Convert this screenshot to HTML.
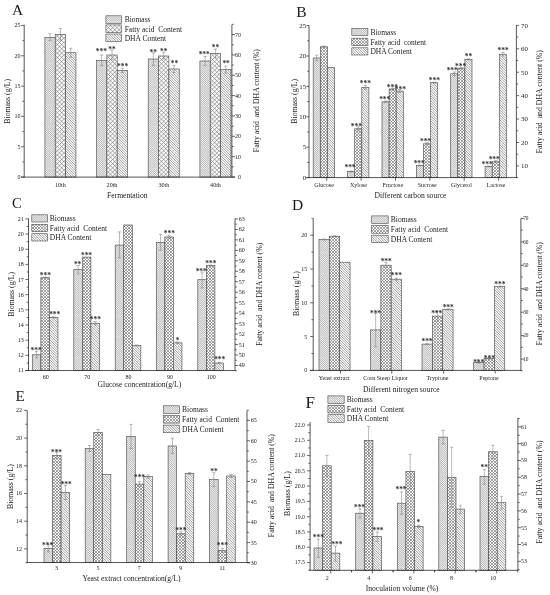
<!DOCTYPE html>
<html><head><meta charset="utf-8"><title>Figure</title>
<style>html,body{margin:0;padding:0;background:#fff}svg{display:block}text{font-family:"Liberation Serif",serif}</style>
</head><body>
<svg width="550" height="595" viewBox="0 0 550 595">
<rect width="550" height="595" fill="#fff"/>
<defs><pattern id="p1" width="21" height="21" patternUnits="userSpaceOnUse"><rect width="21" height="21" fill="#f2f2f2"/><path d="M-21 0L0 21M-18.9 0L2.1 21M-16.8 0L4.2 21M-14.7 0L6.3 21M-12.6 0L8.4 21M-10.5 0L10.5 21M-8.4 0L12.6 21M-6.3 0L14.7 21M-4.2 0L16.8 21M-2.1 0L18.9 21M0 0L21 21M2.1 0L23.1 21M4.2 0L25.2 21M6.3 0L27.3 21M8.4 0L29.4 21M10.5 0L31.5 21M12.6 0L33.6 21M14.7 0L35.7 21M16.8 0L37.8 21M18.9 0L39.9 21M21 0L42 21" stroke="#8e8e8e" stroke-width="0.62" fill="none"/></pattern><pattern id="p2" width="3" height="3" patternUnits="userSpaceOnUse"><rect width="3" height="3" fill="#fdfdfd"/><path d="M-3 0L0 3M0 0L-3 3M0 0L3 3M3 0L0 3M3 0L6 3M6 0L3 3" stroke="#727272" stroke-width="0.66" fill="none"/></pattern><pattern id="p2a" width="17" height="17" patternUnits="userSpaceOnUse"><rect width="17" height="17" fill="#fafafa"/><path d="M-17 0L0 17M0 0L-17 17M-12.75 0L4.25 17M4.25 0L-12.75 17M-8.5 0L8.5 17M8.5 0L-8.5 17M-4.25 0L12.75 17M12.75 0L-4.25 17M0 0L17 17M17 0L0 17M4.25 0L21.25 17M21.25 0L4.25 17M8.5 0L25.5 17M25.5 0L8.5 17M12.75 0L29.75 17M29.75 0L12.75 17M17 0L34 17M34 0L17 17" stroke="#808080" stroke-width="0.68" fill="none"/></pattern><pattern id="p3" width="5" height="5" patternUnits="userSpaceOnUse"><rect width="5" height="5" fill="#fcfcfc"/><path d="M-5 0L0 5M-2.5 0L2.5 5M0 0L5 5M2.5 0L7.5 5M5 0L10 5" stroke="#8e8e8e" stroke-width="0.8" fill="none"/></pattern></defs>
<rect x="44.9" y="37.4" width="10.35" height="139.7" fill="url(#p1)" stroke="#4e4e4e" stroke-width="0.65"/>
<rect x="55.25" y="34.4" width="10.35" height="142.7" fill="url(#p2a)" stroke="#4e4e4e" stroke-width="0.65"/>
<rect x="65.6" y="52.7" width="10.35" height="124.4" fill="url(#p3)" stroke="#4e4e4e" stroke-width="0.65"/>
<line x1="50.07" y1="33.8" x2="50.07" y2="40.7" stroke="#7e7e7e" stroke-width="0.55"/>
<line x1="48.47" y1="33.8" x2="51.67" y2="33.8" stroke="#7e7e7e" stroke-width="0.55"/>
<line x1="48.47" y1="40.7" x2="51.67" y2="40.7" stroke="#7e7e7e" stroke-width="0.55"/>
<line x1="60.42" y1="28.5" x2="60.42" y2="40.2" stroke="#7e7e7e" stroke-width="0.55"/>
<line x1="58.82" y1="28.5" x2="62.02" y2="28.5" stroke="#7e7e7e" stroke-width="0.55"/>
<line x1="58.82" y1="40.2" x2="62.02" y2="40.2" stroke="#7e7e7e" stroke-width="0.55"/>
<line x1="70.77" y1="48.3" x2="70.77" y2="57.3" stroke="#7e7e7e" stroke-width="0.55"/>
<line x1="69.17" y1="48.3" x2="72.37" y2="48.3" stroke="#7e7e7e" stroke-width="0.55"/>
<line x1="69.17" y1="57.3" x2="72.37" y2="57.3" stroke="#7e7e7e" stroke-width="0.55"/>
<rect x="96.5" y="60.3" width="10.35" height="116.8" fill="url(#p1)" stroke="#4e4e4e" stroke-width="0.65"/>
<rect x="106.85" y="55" width="10.35" height="122.1" fill="url(#p2a)" stroke="#4e4e4e" stroke-width="0.65"/>
<rect x="117.2" y="70.5" width="10.35" height="106.6" fill="url(#p3)" stroke="#4e4e4e" stroke-width="0.65"/>
<line x1="101.67" y1="55" x2="101.67" y2="65.6" stroke="#7e7e7e" stroke-width="0.55"/>
<line x1="100.08" y1="55" x2="103.27" y2="55" stroke="#7e7e7e" stroke-width="0.55"/>
<line x1="100.08" y1="65.6" x2="103.27" y2="65.6" stroke="#7e7e7e" stroke-width="0.55"/>
<line x1="112.02" y1="50.1" x2="112.02" y2="59.8" stroke="#7e7e7e" stroke-width="0.55"/>
<line x1="110.42" y1="50.1" x2="113.62" y2="50.1" stroke="#7e7e7e" stroke-width="0.55"/>
<line x1="110.42" y1="59.8" x2="113.62" y2="59.8" stroke="#7e7e7e" stroke-width="0.55"/>
<line x1="122.38" y1="68.2" x2="122.38" y2="72.5" stroke="#7e7e7e" stroke-width="0.55"/>
<line x1="120.78" y1="68.2" x2="123.97" y2="68.2" stroke="#7e7e7e" stroke-width="0.55"/>
<line x1="120.78" y1="72.5" x2="123.97" y2="72.5" stroke="#7e7e7e" stroke-width="0.55"/>
<text x="101.3" y="54" font-size="7.4" text-anchor="middle" fill="#2a2a2a" font-weight="bold">***</text>
<text x="112" y="52" font-size="7.4" text-anchor="middle" fill="#2a2a2a" font-weight="bold">**</text>
<text x="122.6" y="69" font-size="7.4" text-anchor="middle" fill="#2a2a2a" font-weight="bold">***</text>
<rect x="148.2" y="59" width="10.35" height="118.1" fill="url(#p1)" stroke="#4e4e4e" stroke-width="0.65"/>
<rect x="158.55" y="56" width="10.35" height="121.1" fill="url(#p2a)" stroke="#4e4e4e" stroke-width="0.65"/>
<rect x="168.9" y="69" width="10.35" height="108.1" fill="url(#p3)" stroke="#4e4e4e" stroke-width="0.65"/>
<line x1="153.38" y1="52.9" x2="153.38" y2="65.6" stroke="#7e7e7e" stroke-width="0.55"/>
<line x1="151.78" y1="52.9" x2="154.97" y2="52.9" stroke="#7e7e7e" stroke-width="0.55"/>
<line x1="151.78" y1="65.6" x2="154.97" y2="65.6" stroke="#7e7e7e" stroke-width="0.55"/>
<line x1="163.72" y1="52.2" x2="163.72" y2="59" stroke="#7e7e7e" stroke-width="0.55"/>
<line x1="162.12" y1="52.2" x2="165.32" y2="52.2" stroke="#7e7e7e" stroke-width="0.55"/>
<line x1="162.12" y1="59" x2="165.32" y2="59" stroke="#7e7e7e" stroke-width="0.55"/>
<line x1="174.07" y1="65.4" x2="174.07" y2="72.5" stroke="#7e7e7e" stroke-width="0.55"/>
<line x1="172.47" y1="65.4" x2="175.67" y2="65.4" stroke="#7e7e7e" stroke-width="0.55"/>
<line x1="172.47" y1="72.5" x2="175.67" y2="72.5" stroke="#7e7e7e" stroke-width="0.55"/>
<text x="153.3" y="55" font-size="7.4" text-anchor="middle" fill="#2a2a2a" font-weight="bold">**</text>
<text x="163.8" y="54" font-size="7.4" text-anchor="middle" fill="#2a2a2a" font-weight="bold">**</text>
<text x="174.4" y="66" font-size="7.4" text-anchor="middle" fill="#2a2a2a" font-weight="bold">**</text>
<rect x="199.9" y="61" width="10.35" height="116.1" fill="url(#p1)" stroke="#4e4e4e" stroke-width="0.65"/>
<rect x="210.25" y="53.4" width="10.35" height="123.7" fill="url(#p2a)" stroke="#4e4e4e" stroke-width="0.65"/>
<rect x="220.6" y="69.5" width="10.35" height="107.6" fill="url(#p3)" stroke="#4e4e4e" stroke-width="0.65"/>
<line x1="205.08" y1="56.5" x2="205.08" y2="65.6" stroke="#7e7e7e" stroke-width="0.55"/>
<line x1="203.48" y1="56.5" x2="206.68" y2="56.5" stroke="#7e7e7e" stroke-width="0.55"/>
<line x1="203.48" y1="65.6" x2="206.68" y2="65.6" stroke="#7e7e7e" stroke-width="0.55"/>
<line x1="215.43" y1="49.1" x2="215.43" y2="57.8" stroke="#7e7e7e" stroke-width="0.55"/>
<line x1="213.83" y1="49.1" x2="217.03" y2="49.1" stroke="#7e7e7e" stroke-width="0.55"/>
<line x1="213.83" y1="57.8" x2="217.03" y2="57.8" stroke="#7e7e7e" stroke-width="0.55"/>
<line x1="225.78" y1="66.2" x2="225.78" y2="73" stroke="#7e7e7e" stroke-width="0.55"/>
<line x1="224.18" y1="66.2" x2="227.38" y2="66.2" stroke="#7e7e7e" stroke-width="0.55"/>
<line x1="224.18" y1="73" x2="227.38" y2="73" stroke="#7e7e7e" stroke-width="0.55"/>
<text x="204.2" y="57" font-size="7.4" text-anchor="middle" fill="#2a2a2a" font-weight="bold">***</text>
<text x="215.4" y="50" font-size="7.4" text-anchor="middle" fill="#2a2a2a" font-weight="bold">**</text>
<text x="226.1" y="66" font-size="7.4" text-anchor="middle" fill="#2a2a2a" font-weight="bold">**</text>
<line x1="24.2" y1="24.8" x2="24.2" y2="177.5" stroke="#2a2a2a" stroke-width="0.8"/>
<line x1="231.9" y1="24.8" x2="231.9" y2="177.5" stroke="#2a2a2a" stroke-width="0.8"/>
<line x1="21" y1="177.1" x2="235.1" y2="177.1" stroke="#2a2a2a" stroke-width="0.8"/>
<line x1="21.1" y1="25.45" x2="24.2" y2="25.45" stroke="#2a2a2a" stroke-width="0.7"/>
<text x="20.4" y="27.43" font-size="6.0" text-anchor="end" fill="#1a1a1a" >25</text>
<line x1="21.1" y1="55.78" x2="24.2" y2="55.78" stroke="#2a2a2a" stroke-width="0.7"/>
<text x="20.4" y="57.76" font-size="6.0" text-anchor="end" fill="#1a1a1a" >20</text>
<line x1="21.1" y1="86.11" x2="24.2" y2="86.11" stroke="#2a2a2a" stroke-width="0.7"/>
<text x="20.4" y="88.09" font-size="6.0" text-anchor="end" fill="#1a1a1a" >15</text>
<line x1="21.1" y1="116.44" x2="24.2" y2="116.44" stroke="#2a2a2a" stroke-width="0.7"/>
<text x="20.4" y="118.42" font-size="6.0" text-anchor="end" fill="#1a1a1a" >10</text>
<line x1="21.1" y1="146.77" x2="24.2" y2="146.77" stroke="#2a2a2a" stroke-width="0.7"/>
<text x="20.4" y="148.75" font-size="6.0" text-anchor="end" fill="#1a1a1a" >5</text>
<line x1="21.1" y1="177.1" x2="24.2" y2="177.1" stroke="#2a2a2a" stroke-width="0.7"/>
<text x="20.4" y="179.08" font-size="6.0" text-anchor="end" fill="#1a1a1a" >0</text>
<line x1="22.4" y1="40.61" x2="24.2" y2="40.61" stroke="#2a2a2a" stroke-width="0.7"/>
<line x1="22.4" y1="70.95" x2="24.2" y2="70.95" stroke="#2a2a2a" stroke-width="0.7"/>
<line x1="22.4" y1="101.28" x2="24.2" y2="101.28" stroke="#2a2a2a" stroke-width="0.7"/>
<line x1="22.4" y1="131.61" x2="24.2" y2="131.61" stroke="#2a2a2a" stroke-width="0.7"/>
<line x1="22.4" y1="161.94" x2="24.2" y2="161.94" stroke="#2a2a2a" stroke-width="0.7"/>
<line x1="231.9" y1="177" x2="235" y2="177" stroke="#2a2a2a" stroke-width="0.7"/>
<text x="238" y="178.98" font-size="6.0" text-anchor="start" fill="#1a1a1a" >0</text>
<line x1="231.9" y1="156.65" x2="235" y2="156.65" stroke="#2a2a2a" stroke-width="0.7"/>
<text x="235" y="158.63" font-size="6.0" text-anchor="start" fill="#1a1a1a" >10</text>
<line x1="231.9" y1="136.3" x2="235" y2="136.3" stroke="#2a2a2a" stroke-width="0.7"/>
<text x="235" y="138.28" font-size="6.0" text-anchor="start" fill="#1a1a1a" >20</text>
<line x1="231.9" y1="115.95" x2="235" y2="115.95" stroke="#2a2a2a" stroke-width="0.7"/>
<text x="235" y="117.93" font-size="6.0" text-anchor="start" fill="#1a1a1a" >30</text>
<line x1="231.9" y1="95.6" x2="235" y2="95.6" stroke="#2a2a2a" stroke-width="0.7"/>
<text x="235" y="97.58" font-size="6.0" text-anchor="start" fill="#1a1a1a" >40</text>
<line x1="231.9" y1="75.25" x2="235" y2="75.25" stroke="#2a2a2a" stroke-width="0.7"/>
<text x="235" y="77.23" font-size="6.0" text-anchor="start" fill="#1a1a1a" >50</text>
<line x1="231.9" y1="54.9" x2="235" y2="54.9" stroke="#2a2a2a" stroke-width="0.7"/>
<text x="235" y="56.88" font-size="6.0" text-anchor="start" fill="#1a1a1a" >60</text>
<line x1="231.9" y1="34.55" x2="235" y2="34.55" stroke="#2a2a2a" stroke-width="0.7"/>
<text x="235" y="36.53" font-size="6.0" text-anchor="start" fill="#1a1a1a" >70</text>
<line x1="231.9" y1="166.82" x2="233.7" y2="166.82" stroke="#2a2a2a" stroke-width="0.7"/>
<line x1="231.9" y1="146.48" x2="233.7" y2="146.48" stroke="#2a2a2a" stroke-width="0.7"/>
<line x1="231.9" y1="126.13" x2="233.7" y2="126.13" stroke="#2a2a2a" stroke-width="0.7"/>
<line x1="231.9" y1="105.77" x2="233.7" y2="105.77" stroke="#2a2a2a" stroke-width="0.7"/>
<line x1="231.9" y1="85.42" x2="233.7" y2="85.42" stroke="#2a2a2a" stroke-width="0.7"/>
<line x1="231.9" y1="65.08" x2="233.7" y2="65.08" stroke="#2a2a2a" stroke-width="0.7"/>
<line x1="231.9" y1="44.72" x2="233.7" y2="44.72" stroke="#2a2a2a" stroke-width="0.7"/>
<line x1="231.9" y1="24.37" x2="233.7" y2="24.37" stroke="#2a2a2a" stroke-width="0.7"/>
<text x="60.4" y="186.91" font-size="6.1" text-anchor="middle" fill="#1a1a1a" >10th</text>
<text x="112" y="186.91" font-size="6.1" text-anchor="middle" fill="#1a1a1a" >20th</text>
<text x="163.8" y="186.91" font-size="6.1" text-anchor="middle" fill="#1a1a1a" >30th</text>
<text x="215.5" y="186.91" font-size="6.1" text-anchor="middle" fill="#1a1a1a" >40th</text>
<text x="127.3" y="197.91" font-size="7.6" text-anchor="middle" fill="#1a1a1a" >Fermentation</text>
<text transform="translate(10.14,101.3) rotate(-90)" font-size="7.8" text-anchor="middle" fill="#1a1a1a">Biomass (g/L)</text>
<text transform="translate(259.04,100.6) rotate(-90)" font-size="7.8" text-anchor="middle" fill="#1a1a1a">Fatty acid&#160; and DHA content (%)</text>
<rect x="105.9" y="15.8" width="15.7" height="7.6" fill="url(#p1)" stroke="#4a4a4a" stroke-width="0.6"/>
<text x="124.7" y="22.38" font-size="7.5" text-anchor="start" fill="#1a1a1a" >Biomass</text>
<rect x="105.9" y="24.9" width="15.7" height="7.7" fill="url(#p2a)" stroke="#4a4a4a" stroke-width="0.6"/>
<text x="124.7" y="31.53" font-size="7.5" text-anchor="start" fill="#1a1a1a" >Fatty acid&#160; Content</text>
<rect x="105.9" y="34" width="15.7" height="7.5" fill="url(#p3)" stroke="#4a4a4a" stroke-width="0.6"/>
<text x="124.7" y="40.52" font-size="7.5" text-anchor="start" fill="#1a1a1a" >DHA Content</text>
<text x="12" y="15" font-size="15.5" text-anchor="start" fill="#1a1a1a" >A</text>
<rect x="313.2" y="58" width="7.1" height="119.6" fill="url(#p1)" stroke="#4e4e4e" stroke-width="0.65"/>
<rect x="320.3" y="46.8" width="7.1" height="130.8" fill="url(#p2)" stroke="#4e4e4e" stroke-width="0.65"/>
<rect x="327.4" y="67.4" width="7.1" height="110.2" fill="url(#p3)" stroke="#4e4e4e" stroke-width="0.65"/>
<line x1="316.75" y1="55.2" x2="316.75" y2="60.8" stroke="#7e7e7e" stroke-width="0.55"/>
<line x1="315.15" y1="55.2" x2="318.35" y2="55.2" stroke="#7e7e7e" stroke-width="0.55"/>
<line x1="315.15" y1="60.8" x2="318.35" y2="60.8" stroke="#7e7e7e" stroke-width="0.55"/>
<line x1="323.85" y1="46" x2="323.85" y2="47.6" stroke="#7e7e7e" stroke-width="0.55"/>
<line x1="322.25" y1="46" x2="325.45" y2="46" stroke="#7e7e7e" stroke-width="0.55"/>
<line x1="322.25" y1="47.6" x2="325.45" y2="47.6" stroke="#7e7e7e" stroke-width="0.55"/>
<rect x="347.6" y="171.5" width="7.1" height="6.1" fill="url(#p1)" stroke="#4e4e4e" stroke-width="0.65"/>
<rect x="354.7" y="128.8" width="7.1" height="48.8" fill="url(#p2)" stroke="#4e4e4e" stroke-width="0.65"/>
<rect x="361.8" y="87.3" width="7.1" height="90.3" fill="url(#p3)" stroke="#4e4e4e" stroke-width="0.65"/>
<line x1="351.15" y1="171" x2="351.15" y2="172" stroke="#7e7e7e" stroke-width="0.55"/>
<line x1="349.55" y1="171" x2="352.75" y2="171" stroke="#7e7e7e" stroke-width="0.55"/>
<line x1="349.55" y1="172" x2="352.75" y2="172" stroke="#7e7e7e" stroke-width="0.55"/>
<line x1="358.25" y1="126.8" x2="358.25" y2="130.8" stroke="#7e7e7e" stroke-width="0.55"/>
<line x1="356.65" y1="126.8" x2="359.85" y2="126.8" stroke="#7e7e7e" stroke-width="0.55"/>
<line x1="356.65" y1="130.8" x2="359.85" y2="130.8" stroke="#7e7e7e" stroke-width="0.55"/>
<line x1="365.35" y1="85.5" x2="365.35" y2="89.1" stroke="#7e7e7e" stroke-width="0.55"/>
<line x1="363.75" y1="85.5" x2="366.95" y2="85.5" stroke="#7e7e7e" stroke-width="0.55"/>
<line x1="363.75" y1="89.1" x2="366.95" y2="89.1" stroke="#7e7e7e" stroke-width="0.55"/>
<text x="350" y="170" font-size="7.4" text-anchor="middle" fill="#2a2a2a" font-weight="bold">***</text>
<text x="356.4" y="129" font-size="7.4" text-anchor="middle" fill="#2a2a2a" font-weight="bold">***</text>
<text x="365.3" y="86" font-size="7.4" text-anchor="middle" fill="#2a2a2a" font-weight="bold">***</text>
<rect x="382" y="101.8" width="7.1" height="75.8" fill="url(#p1)" stroke="#4e4e4e" stroke-width="0.65"/>
<rect x="389.1" y="89" width="7.1" height="88.6" fill="url(#p2)" stroke="#4e4e4e" stroke-width="0.65"/>
<rect x="396.2" y="91.1" width="7.1" height="86.5" fill="url(#p3)" stroke="#4e4e4e" stroke-width="0.65"/>
<line x1="385.55" y1="101.2" x2="385.55" y2="102.4" stroke="#7e7e7e" stroke-width="0.55"/>
<line x1="383.95" y1="101.2" x2="387.15" y2="101.2" stroke="#7e7e7e" stroke-width="0.55"/>
<line x1="383.95" y1="102.4" x2="387.15" y2="102.4" stroke="#7e7e7e" stroke-width="0.55"/>
<line x1="392.65" y1="88.2" x2="392.65" y2="89.8" stroke="#7e7e7e" stroke-width="0.55"/>
<line x1="391.05" y1="88.2" x2="394.25" y2="88.2" stroke="#7e7e7e" stroke-width="0.55"/>
<line x1="391.05" y1="89.8" x2="394.25" y2="89.8" stroke="#7e7e7e" stroke-width="0.55"/>
<line x1="399.75" y1="89.6" x2="399.75" y2="92.6" stroke="#7e7e7e" stroke-width="0.55"/>
<line x1="398.15" y1="89.6" x2="401.35" y2="89.6" stroke="#7e7e7e" stroke-width="0.55"/>
<line x1="398.15" y1="92.6" x2="401.35" y2="92.6" stroke="#7e7e7e" stroke-width="0.55"/>
<text x="384.7" y="102" font-size="7.4" text-anchor="middle" fill="#2a2a2a" font-weight="bold">***</text>
<text x="392.3" y="90" font-size="7.4" text-anchor="middle" fill="#2a2a2a" font-weight="bold">***</text>
<text x="400.4" y="92" font-size="7.4" text-anchor="middle" fill="#2a2a2a" font-weight="bold">***</text>
<rect x="416.4" y="165.4" width="7.1" height="12.2" fill="url(#p1)" stroke="#4e4e4e" stroke-width="0.65"/>
<rect x="423.5" y="143.8" width="7.1" height="33.8" fill="url(#p2)" stroke="#4e4e4e" stroke-width="0.65"/>
<rect x="430.6" y="82.7" width="7.1" height="94.9" fill="url(#p3)" stroke="#4e4e4e" stroke-width="0.65"/>
<line x1="419.95" y1="165" x2="419.95" y2="165.8" stroke="#7e7e7e" stroke-width="0.55"/>
<line x1="418.35" y1="165" x2="421.55" y2="165" stroke="#7e7e7e" stroke-width="0.55"/>
<line x1="418.35" y1="165.8" x2="421.55" y2="165.8" stroke="#7e7e7e" stroke-width="0.55"/>
<line x1="427.05" y1="142.6" x2="427.05" y2="145" stroke="#7e7e7e" stroke-width="0.55"/>
<line x1="425.45" y1="142.6" x2="428.65" y2="142.6" stroke="#7e7e7e" stroke-width="0.55"/>
<line x1="425.45" y1="145" x2="428.65" y2="145" stroke="#7e7e7e" stroke-width="0.55"/>
<line x1="434.15" y1="82.2" x2="434.15" y2="83.2" stroke="#7e7e7e" stroke-width="0.55"/>
<line x1="432.55" y1="82.2" x2="435.75" y2="82.2" stroke="#7e7e7e" stroke-width="0.55"/>
<line x1="432.55" y1="83.2" x2="435.75" y2="83.2" stroke="#7e7e7e" stroke-width="0.55"/>
<text x="419.2" y="166" font-size="7.4" text-anchor="middle" fill="#2a2a2a" font-weight="bold">***</text>
<text x="425.5" y="144" font-size="7.4" text-anchor="middle" fill="#2a2a2a" font-weight="bold">***</text>
<text x="434.4" y="83" font-size="7.4" text-anchor="middle" fill="#2a2a2a" font-weight="bold">***</text>
<rect x="450.7" y="73.8" width="7.1" height="103.8" fill="url(#p1)" stroke="#4e4e4e" stroke-width="0.65"/>
<rect x="457.8" y="68.2" width="7.1" height="109.4" fill="url(#p2)" stroke="#4e4e4e" stroke-width="0.65"/>
<rect x="464.9" y="59.3" width="7.1" height="118.3" fill="url(#p3)" stroke="#4e4e4e" stroke-width="0.65"/>
<line x1="454.25" y1="72" x2="454.25" y2="75.6" stroke="#7e7e7e" stroke-width="0.55"/>
<line x1="452.65" y1="72" x2="455.85" y2="72" stroke="#7e7e7e" stroke-width="0.55"/>
<line x1="452.65" y1="75.6" x2="455.85" y2="75.6" stroke="#7e7e7e" stroke-width="0.55"/>
<line x1="461.35" y1="67.6" x2="461.35" y2="68.8" stroke="#7e7e7e" stroke-width="0.55"/>
<line x1="459.75" y1="67.6" x2="462.95" y2="67.6" stroke="#7e7e7e" stroke-width="0.55"/>
<line x1="459.75" y1="68.8" x2="462.95" y2="68.8" stroke="#7e7e7e" stroke-width="0.55"/>
<line x1="468.45" y1="58.8" x2="468.45" y2="59.8" stroke="#7e7e7e" stroke-width="0.55"/>
<line x1="466.85" y1="58.8" x2="470.05" y2="58.8" stroke="#7e7e7e" stroke-width="0.55"/>
<line x1="466.85" y1="59.8" x2="470.05" y2="59.8" stroke="#7e7e7e" stroke-width="0.55"/>
<text x="452.2" y="73" font-size="7.4" text-anchor="middle" fill="#2a2a2a" font-weight="bold">***</text>
<text x="460.6" y="69" font-size="7.4" text-anchor="middle" fill="#2a2a2a" font-weight="bold">***</text>
<text x="468.5" y="59" font-size="7.4" text-anchor="middle" fill="#2a2a2a" font-weight="bold">**</text>
<rect x="485.1" y="166.4" width="7.1" height="11.2" fill="url(#p1)" stroke="#4e4e4e" stroke-width="0.65"/>
<rect x="492.2" y="161.8" width="7.1" height="15.8" fill="url(#p2)" stroke="#4e4e4e" stroke-width="0.65"/>
<rect x="499.3" y="54.2" width="7.1" height="123.4" fill="url(#p3)" stroke="#4e4e4e" stroke-width="0.65"/>
<line x1="488.65" y1="166" x2="488.65" y2="166.8" stroke="#7e7e7e" stroke-width="0.55"/>
<line x1="487.05" y1="166" x2="490.25" y2="166" stroke="#7e7e7e" stroke-width="0.55"/>
<line x1="487.05" y1="166.8" x2="490.25" y2="166.8" stroke="#7e7e7e" stroke-width="0.55"/>
<line x1="495.75" y1="160.6" x2="495.75" y2="163" stroke="#7e7e7e" stroke-width="0.55"/>
<line x1="494.15" y1="160.6" x2="497.35" y2="160.6" stroke="#7e7e7e" stroke-width="0.55"/>
<line x1="494.15" y1="163" x2="497.35" y2="163" stroke="#7e7e7e" stroke-width="0.55"/>
<line x1="502.85" y1="52.4" x2="502.85" y2="56" stroke="#7e7e7e" stroke-width="0.55"/>
<line x1="501.25" y1="52.4" x2="504.45" y2="52.4" stroke="#7e7e7e" stroke-width="0.55"/>
<line x1="501.25" y1="56" x2="504.45" y2="56" stroke="#7e7e7e" stroke-width="0.55"/>
<text x="487.1" y="167" font-size="7.4" text-anchor="middle" fill="#2a2a2a" font-weight="bold">***</text>
<text x="494.2" y="162" font-size="7.4" text-anchor="middle" fill="#2a2a2a" font-weight="bold">***</text>
<text x="503.1" y="53" font-size="7.4" text-anchor="middle" fill="#2a2a2a" font-weight="bold">***</text>
<line x1="309" y1="25.2" x2="309" y2="178" stroke="#2a2a2a" stroke-width="0.8"/>
<line x1="516.4" y1="25.2" x2="516.4" y2="178" stroke="#2a2a2a" stroke-width="0.8"/>
<line x1="306.3" y1="177.6" x2="516.8" y2="177.6" stroke="#2a2a2a" stroke-width="0.8"/>
<line x1="306.3" y1="25.6" x2="309" y2="25.6" stroke="#2a2a2a" stroke-width="0.7"/>
<text x="306.2" y="27.88" font-size="6.9" text-anchor="end" fill="#1a1a1a" >25</text>
<line x1="306.3" y1="56" x2="309" y2="56" stroke="#2a2a2a" stroke-width="0.7"/>
<text x="306.2" y="58.28" font-size="6.9" text-anchor="end" fill="#1a1a1a" >20</text>
<line x1="306.3" y1="86.4" x2="309" y2="86.4" stroke="#2a2a2a" stroke-width="0.7"/>
<text x="306.2" y="88.68" font-size="6.9" text-anchor="end" fill="#1a1a1a" >15</text>
<line x1="306.3" y1="116.8" x2="309" y2="116.8" stroke="#2a2a2a" stroke-width="0.7"/>
<text x="306.2" y="119.08" font-size="6.9" text-anchor="end" fill="#1a1a1a" >10</text>
<line x1="306.3" y1="147.2" x2="309" y2="147.2" stroke="#2a2a2a" stroke-width="0.7"/>
<text x="306.2" y="149.48" font-size="6.9" text-anchor="end" fill="#1a1a1a" >5</text>
<line x1="306.3" y1="177.6" x2="309" y2="177.6" stroke="#2a2a2a" stroke-width="0.7"/>
<text x="306.2" y="179.88" font-size="6.9" text-anchor="end" fill="#1a1a1a" >0</text>
<line x1="307.2" y1="40.8" x2="309" y2="40.8" stroke="#2a2a2a" stroke-width="0.7"/>
<line x1="307.2" y1="71.2" x2="309" y2="71.2" stroke="#2a2a2a" stroke-width="0.7"/>
<line x1="307.2" y1="101.6" x2="309" y2="101.6" stroke="#2a2a2a" stroke-width="0.7"/>
<line x1="307.2" y1="132" x2="309" y2="132" stroke="#2a2a2a" stroke-width="0.7"/>
<line x1="307.2" y1="162.4" x2="309" y2="162.4" stroke="#2a2a2a" stroke-width="0.7"/>
<line x1="516.4" y1="25.38" x2="519.1" y2="25.38" stroke="#2a2a2a" stroke-width="0.7"/>
<text x="521" y="27.66" font-size="6.9" text-anchor="start" fill="#1a1a1a" >70</text>
<line x1="516.4" y1="48.8" x2="519.1" y2="48.8" stroke="#2a2a2a" stroke-width="0.7"/>
<text x="521" y="51.08" font-size="6.9" text-anchor="start" fill="#1a1a1a" >60</text>
<line x1="516.4" y1="72.22" x2="519.1" y2="72.22" stroke="#2a2a2a" stroke-width="0.7"/>
<text x="521" y="74.5" font-size="6.9" text-anchor="start" fill="#1a1a1a" >50</text>
<line x1="516.4" y1="95.64" x2="519.1" y2="95.64" stroke="#2a2a2a" stroke-width="0.7"/>
<text x="521" y="97.92" font-size="6.9" text-anchor="start" fill="#1a1a1a" >40</text>
<line x1="516.4" y1="119.06" x2="519.1" y2="119.06" stroke="#2a2a2a" stroke-width="0.7"/>
<text x="521" y="121.34" font-size="6.9" text-anchor="start" fill="#1a1a1a" >30</text>
<line x1="516.4" y1="142.48" x2="519.1" y2="142.48" stroke="#2a2a2a" stroke-width="0.7"/>
<text x="521" y="144.76" font-size="6.9" text-anchor="start" fill="#1a1a1a" >20</text>
<line x1="516.4" y1="165.9" x2="519.1" y2="165.9" stroke="#2a2a2a" stroke-width="0.7"/>
<text x="521" y="168.18" font-size="6.9" text-anchor="start" fill="#1a1a1a" >10</text>
<line x1="516.4" y1="37.09" x2="518.2" y2="37.09" stroke="#2a2a2a" stroke-width="0.7"/>
<line x1="516.4" y1="60.51" x2="518.2" y2="60.51" stroke="#2a2a2a" stroke-width="0.7"/>
<line x1="516.4" y1="83.93" x2="518.2" y2="83.93" stroke="#2a2a2a" stroke-width="0.7"/>
<line x1="516.4" y1="107.35" x2="518.2" y2="107.35" stroke="#2a2a2a" stroke-width="0.7"/>
<line x1="516.4" y1="130.77" x2="518.2" y2="130.77" stroke="#2a2a2a" stroke-width="0.7"/>
<line x1="516.4" y1="154.19" x2="518.2" y2="154.19" stroke="#2a2a2a" stroke-width="0.7"/>
<line x1="516.4" y1="177.61" x2="518.2" y2="177.61" stroke="#2a2a2a" stroke-width="0.7"/>
<line x1="326.7" y1="177.6" x2="326.7" y2="180.8" stroke="#2a2a2a" stroke-width="0.7"/>
<text x="324" y="187.18" font-size="6.0" text-anchor="middle" fill="#1a1a1a" >Glucose</text>
<line x1="361.1" y1="177.6" x2="361.1" y2="180.8" stroke="#2a2a2a" stroke-width="0.7"/>
<text x="358.4" y="187.18" font-size="6.0" text-anchor="middle" fill="#1a1a1a" >Xylose</text>
<line x1="395.5" y1="177.6" x2="395.5" y2="180.8" stroke="#2a2a2a" stroke-width="0.7"/>
<text x="392.8" y="187.18" font-size="6.0" text-anchor="middle" fill="#1a1a1a" >Fructose</text>
<line x1="429.9" y1="177.6" x2="429.9" y2="180.8" stroke="#2a2a2a" stroke-width="0.7"/>
<text x="427.2" y="187.18" font-size="6.0" text-anchor="middle" fill="#1a1a1a" >Sucrose</text>
<line x1="464.2" y1="177.6" x2="464.2" y2="180.8" stroke="#2a2a2a" stroke-width="0.7"/>
<text x="461.5" y="187.18" font-size="6.0" text-anchor="middle" fill="#1a1a1a" >Glycerol</text>
<line x1="498.6" y1="177.6" x2="498.6" y2="180.8" stroke="#2a2a2a" stroke-width="0.7"/>
<text x="495.9" y="187.18" font-size="6.0" text-anchor="middle" fill="#1a1a1a" >Lactose</text>
<text x="410.5" y="197.91" font-size="7.6" text-anchor="middle" fill="#1a1a1a" >Different carbon source</text>
<text transform="translate(296.94,101.3) rotate(-90)" font-size="7.8" text-anchor="middle" fill="#1a1a1a">Biomass (g/L)</text>
<text transform="translate(542.34,101.7) rotate(-90)" font-size="7.8" text-anchor="middle" fill="#1a1a1a">Fatty acid&#160; and DHA content (%)</text>
<rect x="351.8" y="28.5" width="16.1" height="7.1" fill="url(#p1)" stroke="#4a4a4a" stroke-width="0.6"/>
<text x="370.4" y="34.82" font-size="7.5" text-anchor="start" fill="#1a1a1a" >Biomass</text>
<rect x="351.8" y="38.2" width="16.1" height="7.3" fill="url(#p2)" stroke="#4a4a4a" stroke-width="0.6"/>
<text x="370.4" y="44.62" font-size="7.5" text-anchor="start" fill="#1a1a1a" >Fatty acid&#160; content</text>
<rect x="351.8" y="47.8" width="16.1" height="7.2" fill="url(#p3)" stroke="#4a4a4a" stroke-width="0.6"/>
<text x="370.4" y="54.17" font-size="7.5" text-anchor="start" fill="#1a1a1a" >DHA Content</text>
<text x="296.3" y="17.3" font-size="15.5" text-anchor="start" fill="#1a1a1a" >B</text>
<rect x="32.3" y="354.8" width="8.55" height="15.7" fill="url(#p1)" stroke="#4e4e4e" stroke-width="0.65"/>
<rect x="40.85" y="277.7" width="8.55" height="92.8" fill="url(#p2)" stroke="#4e4e4e" stroke-width="0.65"/>
<rect x="49.4" y="317.4" width="8.55" height="53.1" fill="url(#p3)" stroke="#4e4e4e" stroke-width="0.65"/>
<line x1="36.57" y1="351.5" x2="36.57" y2="357.8" stroke="#7e7e7e" stroke-width="0.55"/>
<line x1="34.97" y1="351.5" x2="38.17" y2="351.5" stroke="#7e7e7e" stroke-width="0.55"/>
<line x1="34.97" y1="357.8" x2="38.17" y2="357.8" stroke="#7e7e7e" stroke-width="0.55"/>
<line x1="45.12" y1="277" x2="45.12" y2="278.4" stroke="#7e7e7e" stroke-width="0.55"/>
<line x1="43.52" y1="277" x2="46.72" y2="277" stroke="#7e7e7e" stroke-width="0.55"/>
<line x1="43.52" y1="278.4" x2="46.72" y2="278.4" stroke="#7e7e7e" stroke-width="0.55"/>
<line x1="53.67" y1="316.6" x2="53.67" y2="318.2" stroke="#7e7e7e" stroke-width="0.55"/>
<line x1="52.07" y1="316.6" x2="55.27" y2="316.6" stroke="#7e7e7e" stroke-width="0.55"/>
<line x1="52.07" y1="318.2" x2="55.27" y2="318.2" stroke="#7e7e7e" stroke-width="0.55"/>
<text x="36.1" y="353" font-size="7.4" text-anchor="middle" fill="#2a2a2a" font-weight="bold">***</text>
<text x="45.3" y="278" font-size="7.4" text-anchor="middle" fill="#2a2a2a" font-weight="bold">***</text>
<text x="54.7" y="317" font-size="7.4" text-anchor="middle" fill="#2a2a2a" font-weight="bold">***</text>
<rect x="73.8" y="269.6" width="8.55" height="100.9" fill="url(#p1)" stroke="#4e4e4e" stroke-width="0.65"/>
<rect x="82.35" y="257.1" width="8.55" height="113.4" fill="url(#p2)" stroke="#4e4e4e" stroke-width="0.65"/>
<rect x="90.9" y="323.2" width="8.55" height="47.3" fill="url(#p3)" stroke="#4e4e4e" stroke-width="0.65"/>
<line x1="78.08" y1="265.5" x2="78.08" y2="273.9" stroke="#7e7e7e" stroke-width="0.55"/>
<line x1="76.48" y1="265.5" x2="79.67" y2="265.5" stroke="#7e7e7e" stroke-width="0.55"/>
<line x1="76.48" y1="273.9" x2="79.67" y2="273.9" stroke="#7e7e7e" stroke-width="0.55"/>
<line x1="95.18" y1="321.6" x2="95.18" y2="324.8" stroke="#7e7e7e" stroke-width="0.55"/>
<line x1="93.58" y1="321.6" x2="96.78" y2="321.6" stroke="#7e7e7e" stroke-width="0.55"/>
<line x1="93.58" y1="324.8" x2="96.78" y2="324.8" stroke="#7e7e7e" stroke-width="0.55"/>
<text x="77.6" y="267" font-size="7.4" text-anchor="middle" fill="#2a2a2a" font-weight="bold">**</text>
<text x="86.5" y="258" font-size="7.4" text-anchor="middle" fill="#2a2a2a" font-weight="bold">***</text>
<text x="95.4" y="322" font-size="7.4" text-anchor="middle" fill="#2a2a2a" font-weight="bold">***</text>
<rect x="115.2" y="245.1" width="8.55" height="125.4" fill="url(#p1)" stroke="#4e4e4e" stroke-width="0.65"/>
<rect x="123.75" y="225" width="8.55" height="145.5" fill="url(#p2)" stroke="#4e4e4e" stroke-width="0.65"/>
<rect x="132.3" y="345.5" width="8.55" height="25" fill="url(#p3)" stroke="#4e4e4e" stroke-width="0.65"/>
<line x1="119.48" y1="231.9" x2="119.48" y2="257.8" stroke="#7e7e7e" stroke-width="0.55"/>
<line x1="117.88" y1="231.9" x2="121.08" y2="231.9" stroke="#7e7e7e" stroke-width="0.55"/>
<line x1="117.88" y1="257.8" x2="121.08" y2="257.8" stroke="#7e7e7e" stroke-width="0.55"/>
<line x1="136.58" y1="345" x2="136.58" y2="346" stroke="#7e7e7e" stroke-width="0.55"/>
<line x1="134.98" y1="345" x2="138.18" y2="345" stroke="#7e7e7e" stroke-width="0.55"/>
<line x1="134.98" y1="346" x2="138.18" y2="346" stroke="#7e7e7e" stroke-width="0.55"/>
<rect x="156.3" y="242.3" width="8.55" height="128.2" fill="url(#p1)" stroke="#4e4e4e" stroke-width="0.65"/>
<rect x="164.85" y="237" width="8.55" height="133.5" fill="url(#p2)" stroke="#4e4e4e" stroke-width="0.65"/>
<rect x="173.4" y="342.8" width="8.55" height="27.7" fill="url(#p3)" stroke="#4e4e4e" stroke-width="0.65"/>
<line x1="160.58" y1="234.4" x2="160.58" y2="250.2" stroke="#7e7e7e" stroke-width="0.55"/>
<line x1="158.98" y1="234.4" x2="162.18" y2="234.4" stroke="#7e7e7e" stroke-width="0.55"/>
<line x1="158.98" y1="250.2" x2="162.18" y2="250.2" stroke="#7e7e7e" stroke-width="0.55"/>
<line x1="169.13" y1="235.4" x2="169.13" y2="238.6" stroke="#7e7e7e" stroke-width="0.55"/>
<line x1="167.53" y1="235.4" x2="170.73" y2="235.4" stroke="#7e7e7e" stroke-width="0.55"/>
<line x1="167.53" y1="238.6" x2="170.73" y2="238.6" stroke="#7e7e7e" stroke-width="0.55"/>
<line x1="177.68" y1="342" x2="177.68" y2="343.6" stroke="#7e7e7e" stroke-width="0.55"/>
<line x1="176.08" y1="342" x2="179.28" y2="342" stroke="#7e7e7e" stroke-width="0.55"/>
<line x1="176.08" y1="343.6" x2="179.28" y2="343.6" stroke="#7e7e7e" stroke-width="0.55"/>
<text x="169.4" y="236" font-size="7.4" text-anchor="middle" fill="#2a2a2a" font-weight="bold">***</text>
<text x="177.5" y="343" font-size="7.4" text-anchor="middle" fill="#2a2a2a" font-weight="bold">*</text>
<rect x="197.8" y="279.7" width="8.55" height="90.8" fill="url(#p1)" stroke="#4e4e4e" stroke-width="0.65"/>
<rect x="206.35" y="265.5" width="8.55" height="105" fill="url(#p2)" stroke="#4e4e4e" stroke-width="0.65"/>
<rect x="214.9" y="363" width="8.55" height="7.5" fill="url(#p3)" stroke="#4e4e4e" stroke-width="0.65"/>
<line x1="202.08" y1="272.1" x2="202.08" y2="287.9" stroke="#7e7e7e" stroke-width="0.55"/>
<line x1="200.48" y1="272.1" x2="203.68" y2="272.1" stroke="#7e7e7e" stroke-width="0.55"/>
<line x1="200.48" y1="287.9" x2="203.68" y2="287.9" stroke="#7e7e7e" stroke-width="0.55"/>
<line x1="210.63" y1="265" x2="210.63" y2="266" stroke="#7e7e7e" stroke-width="0.55"/>
<line x1="209.03" y1="265" x2="212.23" y2="265" stroke="#7e7e7e" stroke-width="0.55"/>
<line x1="209.03" y1="266" x2="212.23" y2="266" stroke="#7e7e7e" stroke-width="0.55"/>
<line x1="219.18" y1="362.4" x2="219.18" y2="363.6" stroke="#7e7e7e" stroke-width="0.55"/>
<line x1="217.58" y1="362.4" x2="220.78" y2="362.4" stroke="#7e7e7e" stroke-width="0.55"/>
<line x1="217.58" y1="363.6" x2="220.78" y2="363.6" stroke="#7e7e7e" stroke-width="0.55"/>
<text x="201.2" y="274" font-size="7.4" text-anchor="middle" fill="#2a2a2a" font-weight="bold">***</text>
<text x="210.8" y="266" font-size="7.4" text-anchor="middle" fill="#2a2a2a" font-weight="bold">***</text>
<text x="219.7" y="362" font-size="7.4" text-anchor="middle" fill="#2a2a2a" font-weight="bold">***</text>
<line x1="28.5" y1="218.5" x2="28.5" y2="370.9" stroke="#2a2a2a" stroke-width="0.8"/>
<line x1="235" y1="218.5" x2="235" y2="370.9" stroke="#2a2a2a" stroke-width="0.8"/>
<line x1="25.4" y1="370.5" x2="235.4" y2="370.5" stroke="#2a2a2a" stroke-width="0.8"/>
<line x1="25.4" y1="218.9" x2="28.5" y2="218.9" stroke="#2a2a2a" stroke-width="0.7"/>
<text x="23.7" y="220.88" font-size="6.0" text-anchor="end" fill="#1a1a1a" >21</text>
<line x1="25.4" y1="234.06" x2="28.5" y2="234.06" stroke="#2a2a2a" stroke-width="0.7"/>
<text x="23.7" y="236.04" font-size="6.0" text-anchor="end" fill="#1a1a1a" >20</text>
<line x1="25.4" y1="249.22" x2="28.5" y2="249.22" stroke="#2a2a2a" stroke-width="0.7"/>
<text x="23.7" y="251.2" font-size="6.0" text-anchor="end" fill="#1a1a1a" >19</text>
<line x1="25.4" y1="264.38" x2="28.5" y2="264.38" stroke="#2a2a2a" stroke-width="0.7"/>
<text x="23.7" y="266.36" font-size="6.0" text-anchor="end" fill="#1a1a1a" >18</text>
<line x1="25.4" y1="279.54" x2="28.5" y2="279.54" stroke="#2a2a2a" stroke-width="0.7"/>
<text x="23.7" y="281.52" font-size="6.0" text-anchor="end" fill="#1a1a1a" >17</text>
<line x1="25.4" y1="294.7" x2="28.5" y2="294.7" stroke="#2a2a2a" stroke-width="0.7"/>
<text x="23.7" y="296.68" font-size="6.0" text-anchor="end" fill="#1a1a1a" >16</text>
<line x1="25.4" y1="309.86" x2="28.5" y2="309.86" stroke="#2a2a2a" stroke-width="0.7"/>
<text x="23.7" y="311.84" font-size="6.0" text-anchor="end" fill="#1a1a1a" >15</text>
<line x1="25.4" y1="325.02" x2="28.5" y2="325.02" stroke="#2a2a2a" stroke-width="0.7"/>
<text x="23.7" y="327" font-size="6.0" text-anchor="end" fill="#1a1a1a" >14</text>
<line x1="25.4" y1="340.18" x2="28.5" y2="340.18" stroke="#2a2a2a" stroke-width="0.7"/>
<text x="23.7" y="342.16" font-size="6.0" text-anchor="end" fill="#1a1a1a" >13</text>
<line x1="25.4" y1="355.34" x2="28.5" y2="355.34" stroke="#2a2a2a" stroke-width="0.7"/>
<text x="23.7" y="357.32" font-size="6.0" text-anchor="end" fill="#1a1a1a" >12</text>
<line x1="25.4" y1="370.5" x2="28.5" y2="370.5" stroke="#2a2a2a" stroke-width="0.7"/>
<text x="23.7" y="372.48" font-size="6.0" text-anchor="end" fill="#1a1a1a" >11</text>
<line x1="26.7" y1="226.48" x2="28.5" y2="226.48" stroke="#2a2a2a" stroke-width="0.7"/>
<line x1="26.7" y1="241.64" x2="28.5" y2="241.64" stroke="#2a2a2a" stroke-width="0.7"/>
<line x1="26.7" y1="256.8" x2="28.5" y2="256.8" stroke="#2a2a2a" stroke-width="0.7"/>
<line x1="26.7" y1="271.96" x2="28.5" y2="271.96" stroke="#2a2a2a" stroke-width="0.7"/>
<line x1="26.7" y1="287.12" x2="28.5" y2="287.12" stroke="#2a2a2a" stroke-width="0.7"/>
<line x1="26.7" y1="302.28" x2="28.5" y2="302.28" stroke="#2a2a2a" stroke-width="0.7"/>
<line x1="26.7" y1="317.44" x2="28.5" y2="317.44" stroke="#2a2a2a" stroke-width="0.7"/>
<line x1="26.7" y1="332.6" x2="28.5" y2="332.6" stroke="#2a2a2a" stroke-width="0.7"/>
<line x1="26.7" y1="347.76" x2="28.5" y2="347.76" stroke="#2a2a2a" stroke-width="0.7"/>
<line x1="26.7" y1="362.92" x2="28.5" y2="362.92" stroke="#2a2a2a" stroke-width="0.7"/>
<line x1="235" y1="218.92" x2="238.1" y2="218.92" stroke="#2a2a2a" stroke-width="0.7"/>
<text x="238.8" y="220.9" font-size="6.0" text-anchor="start" fill="#1a1a1a" >63</text>
<line x1="235" y1="229.39" x2="238.1" y2="229.39" stroke="#2a2a2a" stroke-width="0.7"/>
<text x="238.8" y="231.37" font-size="6.0" text-anchor="start" fill="#1a1a1a" >62</text>
<line x1="235" y1="239.86" x2="238.1" y2="239.86" stroke="#2a2a2a" stroke-width="0.7"/>
<text x="238.8" y="241.84" font-size="6.0" text-anchor="start" fill="#1a1a1a" >61</text>
<line x1="235" y1="250.33" x2="238.1" y2="250.33" stroke="#2a2a2a" stroke-width="0.7"/>
<text x="238.8" y="252.31" font-size="6.0" text-anchor="start" fill="#1a1a1a" >60</text>
<line x1="235" y1="260.8" x2="238.1" y2="260.8" stroke="#2a2a2a" stroke-width="0.7"/>
<text x="238.8" y="262.78" font-size="6.0" text-anchor="start" fill="#1a1a1a" >59</text>
<line x1="235" y1="271.27" x2="238.1" y2="271.27" stroke="#2a2a2a" stroke-width="0.7"/>
<text x="238.8" y="273.25" font-size="6.0" text-anchor="start" fill="#1a1a1a" >58</text>
<line x1="235" y1="281.74" x2="238.1" y2="281.74" stroke="#2a2a2a" stroke-width="0.7"/>
<text x="238.8" y="283.72" font-size="6.0" text-anchor="start" fill="#1a1a1a" >57</text>
<line x1="235" y1="292.21" x2="238.1" y2="292.21" stroke="#2a2a2a" stroke-width="0.7"/>
<text x="238.8" y="294.19" font-size="6.0" text-anchor="start" fill="#1a1a1a" >56</text>
<line x1="235" y1="302.68" x2="238.1" y2="302.68" stroke="#2a2a2a" stroke-width="0.7"/>
<text x="238.8" y="304.66" font-size="6.0" text-anchor="start" fill="#1a1a1a" >55</text>
<line x1="235" y1="313.15" x2="238.1" y2="313.15" stroke="#2a2a2a" stroke-width="0.7"/>
<text x="238.8" y="315.13" font-size="6.0" text-anchor="start" fill="#1a1a1a" >54</text>
<line x1="235" y1="323.62" x2="238.1" y2="323.62" stroke="#2a2a2a" stroke-width="0.7"/>
<text x="238.8" y="325.6" font-size="6.0" text-anchor="start" fill="#1a1a1a" >53</text>
<line x1="235" y1="334.09" x2="238.1" y2="334.09" stroke="#2a2a2a" stroke-width="0.7"/>
<text x="238.8" y="336.07" font-size="6.0" text-anchor="start" fill="#1a1a1a" >52</text>
<line x1="235" y1="344.56" x2="238.1" y2="344.56" stroke="#2a2a2a" stroke-width="0.7"/>
<text x="238.8" y="346.54" font-size="6.0" text-anchor="start" fill="#1a1a1a" >51</text>
<line x1="235" y1="355.03" x2="238.1" y2="355.03" stroke="#2a2a2a" stroke-width="0.7"/>
<text x="238.8" y="357.01" font-size="6.0" text-anchor="start" fill="#1a1a1a" >50</text>
<line x1="235" y1="365.5" x2="238.1" y2="365.5" stroke="#2a2a2a" stroke-width="0.7"/>
<text x="238.8" y="367.48" font-size="6.0" text-anchor="start" fill="#1a1a1a" >49</text>
<line x1="235" y1="224.15" x2="236.8" y2="224.15" stroke="#2a2a2a" stroke-width="0.7"/>
<line x1="235" y1="234.62" x2="236.8" y2="234.62" stroke="#2a2a2a" stroke-width="0.7"/>
<line x1="235" y1="245.09" x2="236.8" y2="245.09" stroke="#2a2a2a" stroke-width="0.7"/>
<line x1="235" y1="255.56" x2="236.8" y2="255.56" stroke="#2a2a2a" stroke-width="0.7"/>
<line x1="235" y1="266.04" x2="236.8" y2="266.04" stroke="#2a2a2a" stroke-width="0.7"/>
<line x1="235" y1="276.5" x2="236.8" y2="276.5" stroke="#2a2a2a" stroke-width="0.7"/>
<line x1="235" y1="286.98" x2="236.8" y2="286.98" stroke="#2a2a2a" stroke-width="0.7"/>
<line x1="235" y1="297.44" x2="236.8" y2="297.44" stroke="#2a2a2a" stroke-width="0.7"/>
<line x1="235" y1="307.92" x2="236.8" y2="307.92" stroke="#2a2a2a" stroke-width="0.7"/>
<line x1="235" y1="318.38" x2="236.8" y2="318.38" stroke="#2a2a2a" stroke-width="0.7"/>
<line x1="235" y1="328.86" x2="236.8" y2="328.86" stroke="#2a2a2a" stroke-width="0.7"/>
<line x1="235" y1="339.32" x2="236.8" y2="339.32" stroke="#2a2a2a" stroke-width="0.7"/>
<line x1="235" y1="349.8" x2="236.8" y2="349.8" stroke="#2a2a2a" stroke-width="0.7"/>
<line x1="235" y1="360.26" x2="236.8" y2="360.26" stroke="#2a2a2a" stroke-width="0.7"/>
<line x1="235" y1="370.74" x2="236.8" y2="370.74" stroke="#2a2a2a" stroke-width="0.7"/>
<text x="45.8" y="379.18" font-size="6.0" text-anchor="middle" fill="#1a1a1a" >60</text>
<text x="87.3" y="379.18" font-size="6.0" text-anchor="middle" fill="#1a1a1a" >70</text>
<text x="128.6" y="379.18" font-size="6.0" text-anchor="middle" fill="#1a1a1a" >80</text>
<text x="169.9" y="379.18" font-size="6.0" text-anchor="middle" fill="#1a1a1a" >90</text>
<text x="211.3" y="379.18" font-size="6.0" text-anchor="middle" fill="#1a1a1a" >100</text>
<text x="139.4" y="387.31" font-size="7.6" text-anchor="middle" fill="#1a1a1a" >Glucose concentration(g/L)</text>
<text transform="translate(13.94,294.3) rotate(-90)" font-size="7.8" text-anchor="middle" fill="#1a1a1a">Biomass (g/L)</text>
<text transform="translate(262.04,294.3) rotate(-90)" font-size="7.8" text-anchor="middle" fill="#1a1a1a">Fatty acid&#160; and DHA content (%)</text>
<rect x="31.8" y="214.8" width="15.8" height="7.2" fill="url(#p1)" stroke="#4a4a4a" stroke-width="0.6"/>
<text x="49.8" y="221.18" font-size="7.5" text-anchor="start" fill="#1a1a1a" >Biomass</text>
<rect x="31.8" y="224.3" width="15.8" height="7.3" fill="url(#p2)" stroke="#4a4a4a" stroke-width="0.6"/>
<text x="49.8" y="230.72" font-size="7.5" text-anchor="start" fill="#1a1a1a" >Fatty acid&#160; Content</text>
<rect x="31.8" y="233.7" width="15.8" height="7.3" fill="url(#p3)" stroke="#4a4a4a" stroke-width="0.6"/>
<text x="49.8" y="240.12" font-size="7.5" text-anchor="start" fill="#1a1a1a" >DHA Content</text>
<text x="12" y="208.3" font-size="14.6" text-anchor="start" fill="#1a1a1a" >C</text>
<rect x="319" y="239.5" width="10.35" height="130.9" fill="url(#p1)" stroke="#4e4e4e" stroke-width="0.65"/>
<rect x="329.35" y="236.2" width="10.35" height="134.2" fill="url(#p2)" stroke="#4e4e4e" stroke-width="0.65"/>
<rect x="339.7" y="262.2" width="10.35" height="108.2" fill="url(#p3)" stroke="#4e4e4e" stroke-width="0.65"/>
<line x1="324.18" y1="239" x2="324.18" y2="240" stroke="#7e7e7e" stroke-width="0.55"/>
<line x1="322.57" y1="239" x2="325.78" y2="239" stroke="#7e7e7e" stroke-width="0.55"/>
<line x1="322.57" y1="240" x2="325.78" y2="240" stroke="#7e7e7e" stroke-width="0.55"/>
<line x1="334.53" y1="235.8" x2="334.53" y2="236.6" stroke="#7e7e7e" stroke-width="0.55"/>
<line x1="332.93" y1="235.8" x2="336.13" y2="235.8" stroke="#7e7e7e" stroke-width="0.55"/>
<line x1="332.93" y1="236.6" x2="336.13" y2="236.6" stroke="#7e7e7e" stroke-width="0.55"/>
<rect x="370.5" y="329.9" width="10.35" height="40.5" fill="url(#p1)" stroke="#4e4e4e" stroke-width="0.65"/>
<rect x="380.85" y="265.2" width="10.35" height="105.2" fill="url(#p2)" stroke="#4e4e4e" stroke-width="0.65"/>
<rect x="391.2" y="279.2" width="10.35" height="91.2" fill="url(#p3)" stroke="#4e4e4e" stroke-width="0.65"/>
<line x1="375.68" y1="313.3" x2="375.68" y2="346.7" stroke="#7e7e7e" stroke-width="0.55"/>
<line x1="374.07" y1="313.3" x2="377.28" y2="313.3" stroke="#7e7e7e" stroke-width="0.55"/>
<line x1="374.07" y1="346.7" x2="377.28" y2="346.7" stroke="#7e7e7e" stroke-width="0.55"/>
<line x1="386.03" y1="262.6" x2="386.03" y2="267.8" stroke="#7e7e7e" stroke-width="0.55"/>
<line x1="384.43" y1="262.6" x2="387.63" y2="262.6" stroke="#7e7e7e" stroke-width="0.55"/>
<line x1="384.43" y1="267.8" x2="387.63" y2="267.8" stroke="#7e7e7e" stroke-width="0.55"/>
<line x1="396.38" y1="278.2" x2="396.38" y2="280.2" stroke="#7e7e7e" stroke-width="0.55"/>
<line x1="394.77" y1="278.2" x2="397.98" y2="278.2" stroke="#7e7e7e" stroke-width="0.55"/>
<line x1="394.77" y1="280.2" x2="397.98" y2="280.2" stroke="#7e7e7e" stroke-width="0.55"/>
<text x="375.5" y="316" font-size="7.4" text-anchor="middle" fill="#2a2a2a" font-weight="bold">***</text>
<text x="386.2" y="264" font-size="7.4" text-anchor="middle" fill="#2a2a2a" font-weight="bold">***</text>
<text x="396.4" y="278" font-size="7.4" text-anchor="middle" fill="#2a2a2a" font-weight="bold">***</text>
<rect x="422" y="344.1" width="10.35" height="26.3" fill="url(#p1)" stroke="#4e4e4e" stroke-width="0.65"/>
<rect x="432.35" y="316.1" width="10.35" height="54.3" fill="url(#p2)" stroke="#4e4e4e" stroke-width="0.65"/>
<rect x="442.7" y="309.5" width="10.35" height="60.9" fill="url(#p3)" stroke="#4e4e4e" stroke-width="0.65"/>
<line x1="427.18" y1="343.6" x2="427.18" y2="344.6" stroke="#7e7e7e" stroke-width="0.55"/>
<line x1="425.57" y1="343.6" x2="428.78" y2="343.6" stroke="#7e7e7e" stroke-width="0.55"/>
<line x1="425.57" y1="344.6" x2="428.78" y2="344.6" stroke="#7e7e7e" stroke-width="0.55"/>
<line x1="437.53" y1="311" x2="437.53" y2="321.2" stroke="#7e7e7e" stroke-width="0.55"/>
<line x1="435.93" y1="311" x2="439.13" y2="311" stroke="#7e7e7e" stroke-width="0.55"/>
<line x1="435.93" y1="321.2" x2="439.13" y2="321.2" stroke="#7e7e7e" stroke-width="0.55"/>
<line x1="447.88" y1="309" x2="447.88" y2="310" stroke="#7e7e7e" stroke-width="0.55"/>
<line x1="446.27" y1="309" x2="449.48" y2="309" stroke="#7e7e7e" stroke-width="0.55"/>
<line x1="446.27" y1="310" x2="449.48" y2="310" stroke="#7e7e7e" stroke-width="0.55"/>
<text x="427" y="344" font-size="7.4" text-anchor="middle" fill="#2a2a2a" font-weight="bold">***</text>
<text x="436.7" y="316" font-size="7.4" text-anchor="middle" fill="#2a2a2a" font-weight="bold">***</text>
<text x="448.2" y="310" font-size="7.4" text-anchor="middle" fill="#2a2a2a" font-weight="bold">***</text>
<rect x="473.7" y="362.4" width="10.35" height="8" fill="url(#p1)" stroke="#4e4e4e" stroke-width="0.65"/>
<rect x="484.05" y="358.4" width="10.35" height="12" fill="url(#p2)" stroke="#4e4e4e" stroke-width="0.65"/>
<rect x="494.4" y="286.6" width="10.35" height="83.8" fill="url(#p3)" stroke="#4e4e4e" stroke-width="0.65"/>
<line x1="478.88" y1="361.6" x2="478.88" y2="363.2" stroke="#7e7e7e" stroke-width="0.55"/>
<line x1="477.27" y1="361.6" x2="480.48" y2="361.6" stroke="#7e7e7e" stroke-width="0.55"/>
<line x1="477.27" y1="363.2" x2="480.48" y2="363.2" stroke="#7e7e7e" stroke-width="0.55"/>
<line x1="489.23" y1="357.8" x2="489.23" y2="359" stroke="#7e7e7e" stroke-width="0.55"/>
<line x1="487.62" y1="357.8" x2="490.83" y2="357.8" stroke="#7e7e7e" stroke-width="0.55"/>
<line x1="487.62" y1="359" x2="490.83" y2="359" stroke="#7e7e7e" stroke-width="0.55"/>
<line x1="499.57" y1="286.1" x2="499.57" y2="287.1" stroke="#7e7e7e" stroke-width="0.55"/>
<line x1="497.97" y1="286.1" x2="501.18" y2="286.1" stroke="#7e7e7e" stroke-width="0.55"/>
<line x1="497.97" y1="287.1" x2="501.18" y2="287.1" stroke="#7e7e7e" stroke-width="0.55"/>
<text x="478.7" y="365" font-size="7.4" text-anchor="middle" fill="#2a2a2a" font-weight="bold">***</text>
<text x="489.4" y="361" font-size="7.4" text-anchor="middle" fill="#2a2a2a" font-weight="bold">***</text>
<text x="499.8" y="287" font-size="7.4" text-anchor="middle" fill="#2a2a2a" font-weight="bold">***</text>
<line x1="313.2" y1="218.4" x2="313.2" y2="370.8" stroke="#2a2a2a" stroke-width="0.8"/>
<line x1="520.9" y1="218.4" x2="520.9" y2="370.8" stroke="#2a2a2a" stroke-width="0.8"/>
<line x1="310.1" y1="370.4" x2="521.3" y2="370.4" stroke="#2a2a2a" stroke-width="0.8"/>
<line x1="310.1" y1="235.2" x2="313.2" y2="235.2" stroke="#2a2a2a" stroke-width="0.7"/>
<text x="307.2" y="237.18" font-size="6.0" text-anchor="end" fill="#1a1a1a" >20</text>
<line x1="310.1" y1="269" x2="313.2" y2="269" stroke="#2a2a2a" stroke-width="0.7"/>
<text x="307.2" y="270.98" font-size="6.0" text-anchor="end" fill="#1a1a1a" >15</text>
<line x1="310.1" y1="302.8" x2="313.2" y2="302.8" stroke="#2a2a2a" stroke-width="0.7"/>
<text x="307.2" y="304.78" font-size="6.0" text-anchor="end" fill="#1a1a1a" >10</text>
<line x1="310.1" y1="336.6" x2="313.2" y2="336.6" stroke="#2a2a2a" stroke-width="0.7"/>
<text x="307.2" y="338.58" font-size="6.0" text-anchor="end" fill="#1a1a1a" >5</text>
<line x1="310.1" y1="370.4" x2="313.2" y2="370.4" stroke="#2a2a2a" stroke-width="0.7"/>
<text x="307.2" y="372.38" font-size="6.0" text-anchor="end" fill="#1a1a1a" >0</text>
<line x1="311.4" y1="218.3" x2="313.2" y2="218.3" stroke="#2a2a2a" stroke-width="0.7"/>
<line x1="311.4" y1="252.1" x2="313.2" y2="252.1" stroke="#2a2a2a" stroke-width="0.7"/>
<line x1="311.4" y1="285.9" x2="313.2" y2="285.9" stroke="#2a2a2a" stroke-width="0.7"/>
<line x1="311.4" y1="319.7" x2="313.2" y2="319.7" stroke="#2a2a2a" stroke-width="0.7"/>
<line x1="311.4" y1="353.5" x2="313.2" y2="353.5" stroke="#2a2a2a" stroke-width="0.7"/>
<line x1="520.9" y1="218.4" x2="524" y2="218.4" stroke="#2a2a2a" stroke-width="0.7"/>
<text x="523.2" y="220.15" font-size="5.3" text-anchor="start" fill="#1a1a1a" >70</text>
<line x1="520.9" y1="241.85" x2="524" y2="241.85" stroke="#2a2a2a" stroke-width="0.7"/>
<text x="523.2" y="243.6" font-size="5.3" text-anchor="start" fill="#1a1a1a" >60</text>
<line x1="520.9" y1="265.3" x2="524" y2="265.3" stroke="#2a2a2a" stroke-width="0.7"/>
<text x="523.2" y="267.05" font-size="5.3" text-anchor="start" fill="#1a1a1a" >50</text>
<line x1="520.9" y1="288.75" x2="524" y2="288.75" stroke="#2a2a2a" stroke-width="0.7"/>
<text x="523.2" y="290.5" font-size="5.3" text-anchor="start" fill="#1a1a1a" >40</text>
<line x1="520.9" y1="312.2" x2="524" y2="312.2" stroke="#2a2a2a" stroke-width="0.7"/>
<text x="523.2" y="313.95" font-size="5.3" text-anchor="start" fill="#1a1a1a" >30</text>
<line x1="520.9" y1="335.65" x2="524" y2="335.65" stroke="#2a2a2a" stroke-width="0.7"/>
<text x="523.2" y="337.4" font-size="5.3" text-anchor="start" fill="#1a1a1a" >20</text>
<line x1="520.9" y1="359.1" x2="524" y2="359.1" stroke="#2a2a2a" stroke-width="0.7"/>
<text x="523.2" y="360.85" font-size="5.3" text-anchor="start" fill="#1a1a1a" >10</text>
<line x1="520.9" y1="230.12" x2="522.7" y2="230.12" stroke="#2a2a2a" stroke-width="0.7"/>
<line x1="520.9" y1="253.58" x2="522.7" y2="253.58" stroke="#2a2a2a" stroke-width="0.7"/>
<line x1="520.9" y1="277.03" x2="522.7" y2="277.03" stroke="#2a2a2a" stroke-width="0.7"/>
<line x1="520.9" y1="300.48" x2="522.7" y2="300.48" stroke="#2a2a2a" stroke-width="0.7"/>
<line x1="520.9" y1="323.93" x2="522.7" y2="323.93" stroke="#2a2a2a" stroke-width="0.7"/>
<line x1="520.9" y1="347.38" x2="522.7" y2="347.38" stroke="#2a2a2a" stroke-width="0.7"/>
<line x1="520.9" y1="370.83" x2="522.7" y2="370.83" stroke="#2a2a2a" stroke-width="0.7"/>
<line x1="340.5" y1="370.4" x2="340.5" y2="373.6" stroke="#2a2a2a" stroke-width="0.7"/>
<text x="334.3" y="380.28" font-size="6.0" text-anchor="middle" fill="#1a1a1a" >Yeast extract</text>
<line x1="391.8" y1="370.4" x2="391.8" y2="373.6" stroke="#2a2a2a" stroke-width="0.7"/>
<text x="385.6" y="380.28" font-size="6.0" text-anchor="middle" fill="#1a1a1a" >Corn Steep Liquor</text>
<line x1="443.7" y1="370.4" x2="443.7" y2="373.6" stroke="#2a2a2a" stroke-width="0.7"/>
<text x="437.5" y="380.28" font-size="6.0" text-anchor="middle" fill="#1a1a1a" >Tryptone</text>
<line x1="495.2" y1="370.4" x2="495.2" y2="373.6" stroke="#2a2a2a" stroke-width="0.7"/>
<text x="489" y="380.28" font-size="6.0" text-anchor="middle" fill="#1a1a1a" >Peptone</text>
<text x="401.4" y="392.21" font-size="7.6" text-anchor="middle" fill="#1a1a1a" >Different nitrogen source</text>
<text transform="translate(298.64,293.6) rotate(-90)" font-size="7.8" text-anchor="middle" fill="#1a1a1a">Biomass (g/L)</text>
<text transform="translate(542.34,293.6) rotate(-90)" font-size="7.8" text-anchor="middle" fill="#1a1a1a">Fatty acid&#160; and DHA content (%)</text>
<rect x="371.7" y="215.9" width="16.5" height="7.6" fill="url(#p1)" stroke="#4a4a4a" stroke-width="0.6"/>
<text x="390.8" y="222.47" font-size="7.5" text-anchor="start" fill="#1a1a1a" >Biomass</text>
<rect x="371.7" y="225.5" width="16.5" height="7.7" fill="url(#p2)" stroke="#4a4a4a" stroke-width="0.6"/>
<text x="390.8" y="232.12" font-size="7.5" text-anchor="start" fill="#1a1a1a" >Fatty acid&#160; Content</text>
<rect x="371.7" y="235.2" width="16.5" height="7.4" fill="url(#p3)" stroke="#4a4a4a" stroke-width="0.6"/>
<text x="390.8" y="241.67" font-size="7.5" text-anchor="start" fill="#1a1a1a" >DHA Content</text>
<text x="292" y="209.9" font-size="15.5" text-anchor="start" fill="#1a1a1a" >D</text>
<rect x="44" y="548.3" width="8.55" height="14.2" fill="url(#p1)" stroke="#4e4e4e" stroke-width="0.65"/>
<rect x="52.55" y="455.4" width="8.55" height="107.1" fill="url(#p2)" stroke="#4e4e4e" stroke-width="0.65"/>
<rect x="61.1" y="492.5" width="8.55" height="70" fill="url(#p3)" stroke="#4e4e4e" stroke-width="0.65"/>
<line x1="48.27" y1="544.7" x2="48.27" y2="551.9" stroke="#7e7e7e" stroke-width="0.55"/>
<line x1="46.67" y1="544.7" x2="49.88" y2="544.7" stroke="#7e7e7e" stroke-width="0.55"/>
<line x1="46.67" y1="551.9" x2="49.88" y2="551.9" stroke="#7e7e7e" stroke-width="0.55"/>
<line x1="56.82" y1="452.3" x2="56.82" y2="458.5" stroke="#7e7e7e" stroke-width="0.55"/>
<line x1="55.22" y1="452.3" x2="58.42" y2="452.3" stroke="#7e7e7e" stroke-width="0.55"/>
<line x1="55.22" y1="458.5" x2="58.42" y2="458.5" stroke="#7e7e7e" stroke-width="0.55"/>
<line x1="65.38" y1="485.4" x2="65.38" y2="499.5" stroke="#7e7e7e" stroke-width="0.55"/>
<line x1="63.77" y1="485.4" x2="66.97" y2="485.4" stroke="#7e7e7e" stroke-width="0.55"/>
<line x1="63.77" y1="499.5" x2="66.97" y2="499.5" stroke="#7e7e7e" stroke-width="0.55"/>
<text x="47.6" y="548" font-size="7.4" text-anchor="middle" fill="#2a2a2a" font-weight="bold">***</text>
<text x="56.5" y="455" font-size="7.4" text-anchor="middle" fill="#2a2a2a" font-weight="bold">***</text>
<text x="66.2" y="487" font-size="7.4" text-anchor="middle" fill="#2a2a2a" font-weight="bold">***</text>
<rect x="85.2" y="448.5" width="8.55" height="114" fill="url(#p1)" stroke="#4e4e4e" stroke-width="0.65"/>
<rect x="93.75" y="432.5" width="8.55" height="130" fill="url(#p2)" stroke="#4e4e4e" stroke-width="0.65"/>
<rect x="102.3" y="474.5" width="8.55" height="88" fill="url(#p3)" stroke="#4e4e4e" stroke-width="0.65"/>
<line x1="89.48" y1="445.5" x2="89.48" y2="451.5" stroke="#7e7e7e" stroke-width="0.55"/>
<line x1="87.88" y1="445.5" x2="91.08" y2="445.5" stroke="#7e7e7e" stroke-width="0.55"/>
<line x1="87.88" y1="451.5" x2="91.08" y2="451.5" stroke="#7e7e7e" stroke-width="0.55"/>
<line x1="98.03" y1="429.4" x2="98.03" y2="435.5" stroke="#7e7e7e" stroke-width="0.55"/>
<line x1="96.43" y1="429.4" x2="99.62" y2="429.4" stroke="#7e7e7e" stroke-width="0.55"/>
<line x1="96.43" y1="435.5" x2="99.62" y2="435.5" stroke="#7e7e7e" stroke-width="0.55"/>
<rect x="126.7" y="436.3" width="8.55" height="126.2" fill="url(#p1)" stroke="#4e4e4e" stroke-width="0.65"/>
<rect x="135.25" y="484.1" width="8.55" height="78.4" fill="url(#p2)" stroke="#4e4e4e" stroke-width="0.65"/>
<rect x="143.8" y="476.5" width="8.55" height="86" fill="url(#p3)" stroke="#4e4e4e" stroke-width="0.65"/>
<line x1="130.97" y1="424.4" x2="130.97" y2="448.5" stroke="#7e7e7e" stroke-width="0.55"/>
<line x1="129.38" y1="424.4" x2="132.57" y2="424.4" stroke="#7e7e7e" stroke-width="0.55"/>
<line x1="129.38" y1="448.5" x2="132.57" y2="448.5" stroke="#7e7e7e" stroke-width="0.55"/>
<line x1="139.53" y1="481.6" x2="139.53" y2="486.6" stroke="#7e7e7e" stroke-width="0.55"/>
<line x1="137.93" y1="481.6" x2="141.12" y2="481.6" stroke="#7e7e7e" stroke-width="0.55"/>
<line x1="137.93" y1="486.6" x2="141.12" y2="486.6" stroke="#7e7e7e" stroke-width="0.55"/>
<line x1="148.08" y1="475" x2="148.08" y2="478" stroke="#7e7e7e" stroke-width="0.55"/>
<line x1="146.48" y1="475" x2="149.68" y2="475" stroke="#7e7e7e" stroke-width="0.55"/>
<line x1="146.48" y1="478" x2="149.68" y2="478" stroke="#7e7e7e" stroke-width="0.55"/>
<text x="139.5" y="480" font-size="7.4" text-anchor="middle" fill="#2a2a2a" font-weight="bold">***</text>
<rect x="168.1" y="446" width="8.55" height="116.5" fill="url(#p1)" stroke="#4e4e4e" stroke-width="0.65"/>
<rect x="176.65" y="533.8" width="8.55" height="28.7" fill="url(#p2)" stroke="#4e4e4e" stroke-width="0.65"/>
<rect x="185.2" y="473.5" width="8.55" height="89" fill="url(#p3)" stroke="#4e4e4e" stroke-width="0.65"/>
<line x1="172.38" y1="438.3" x2="172.38" y2="453.6" stroke="#7e7e7e" stroke-width="0.55"/>
<line x1="170.78" y1="438.3" x2="173.97" y2="438.3" stroke="#7e7e7e" stroke-width="0.55"/>
<line x1="170.78" y1="453.6" x2="173.97" y2="453.6" stroke="#7e7e7e" stroke-width="0.55"/>
<line x1="180.93" y1="531.8" x2="180.93" y2="535.8" stroke="#7e7e7e" stroke-width="0.55"/>
<line x1="179.33" y1="531.8" x2="182.53" y2="531.8" stroke="#7e7e7e" stroke-width="0.55"/>
<line x1="179.33" y1="535.8" x2="182.53" y2="535.8" stroke="#7e7e7e" stroke-width="0.55"/>
<line x1="189.47" y1="472.5" x2="189.47" y2="474.5" stroke="#7e7e7e" stroke-width="0.55"/>
<line x1="187.88" y1="472.5" x2="191.07" y2="472.5" stroke="#7e7e7e" stroke-width="0.55"/>
<line x1="187.88" y1="474.5" x2="191.07" y2="474.5" stroke="#7e7e7e" stroke-width="0.55"/>
<text x="180.8" y="533" font-size="7.4" text-anchor="middle" fill="#2a2a2a" font-weight="bold">***</text>
<rect x="209.6" y="479.6" width="8.55" height="82.9" fill="url(#p1)" stroke="#4e4e4e" stroke-width="0.65"/>
<rect x="218.15" y="550.3" width="8.55" height="12.2" fill="url(#p2)" stroke="#4e4e4e" stroke-width="0.65"/>
<rect x="226.7" y="476" width="8.55" height="86.5" fill="url(#p3)" stroke="#4e4e4e" stroke-width="0.65"/>
<line x1="213.88" y1="472.7" x2="213.88" y2="486.7" stroke="#7e7e7e" stroke-width="0.55"/>
<line x1="212.28" y1="472.7" x2="215.47" y2="472.7" stroke="#7e7e7e" stroke-width="0.55"/>
<line x1="212.28" y1="486.7" x2="215.47" y2="486.7" stroke="#7e7e7e" stroke-width="0.55"/>
<line x1="222.43" y1="548.3" x2="222.43" y2="552.3" stroke="#7e7e7e" stroke-width="0.55"/>
<line x1="220.83" y1="548.3" x2="224.03" y2="548.3" stroke="#7e7e7e" stroke-width="0.55"/>
<line x1="220.83" y1="552.3" x2="224.03" y2="552.3" stroke="#7e7e7e" stroke-width="0.55"/>
<line x1="230.97" y1="474.5" x2="230.97" y2="477.5" stroke="#7e7e7e" stroke-width="0.55"/>
<line x1="229.38" y1="474.5" x2="232.57" y2="474.5" stroke="#7e7e7e" stroke-width="0.55"/>
<line x1="229.38" y1="477.5" x2="232.57" y2="477.5" stroke="#7e7e7e" stroke-width="0.55"/>
<text x="213.9" y="474" font-size="7.4" text-anchor="middle" fill="#2a2a2a" font-weight="bold">**</text>
<text x="222.3" y="548" font-size="7.4" text-anchor="middle" fill="#2a2a2a" font-weight="bold">***</text>
<line x1="27.2" y1="410.4" x2="27.2" y2="562.9" stroke="#2a2a2a" stroke-width="0.8"/>
<line x1="247" y1="410.4" x2="247" y2="562.9" stroke="#2a2a2a" stroke-width="0.8"/>
<line x1="26.8" y1="562.5" x2="250.1" y2="562.5" stroke="#2a2a2a" stroke-width="0.8"/>
<line x1="24.1" y1="410.4" x2="27.2" y2="410.4" stroke="#2a2a2a" stroke-width="0.7"/>
<text x="22.1" y="412.38" font-size="6.0" text-anchor="end" fill="#1a1a1a" >22</text>
<line x1="24.1" y1="438.1" x2="27.2" y2="438.1" stroke="#2a2a2a" stroke-width="0.7"/>
<text x="22.1" y="440.08" font-size="6.0" text-anchor="end" fill="#1a1a1a" >20</text>
<line x1="24.1" y1="465.8" x2="27.2" y2="465.8" stroke="#2a2a2a" stroke-width="0.7"/>
<text x="22.1" y="467.78" font-size="6.0" text-anchor="end" fill="#1a1a1a" >18</text>
<line x1="24.1" y1="493.5" x2="27.2" y2="493.5" stroke="#2a2a2a" stroke-width="0.7"/>
<text x="22.1" y="495.48" font-size="6.0" text-anchor="end" fill="#1a1a1a" >16</text>
<line x1="24.1" y1="521.2" x2="27.2" y2="521.2" stroke="#2a2a2a" stroke-width="0.7"/>
<text x="22.1" y="523.18" font-size="6.0" text-anchor="end" fill="#1a1a1a" >14</text>
<line x1="24.1" y1="548.9" x2="27.2" y2="548.9" stroke="#2a2a2a" stroke-width="0.7"/>
<text x="22.1" y="550.88" font-size="6.0" text-anchor="end" fill="#1a1a1a" >12</text>
<line x1="25.4" y1="424.25" x2="27.2" y2="424.25" stroke="#2a2a2a" stroke-width="0.7"/>
<line x1="25.4" y1="451.95" x2="27.2" y2="451.95" stroke="#2a2a2a" stroke-width="0.7"/>
<line x1="25.4" y1="479.65" x2="27.2" y2="479.65" stroke="#2a2a2a" stroke-width="0.7"/>
<line x1="25.4" y1="507.35" x2="27.2" y2="507.35" stroke="#2a2a2a" stroke-width="0.7"/>
<line x1="25.4" y1="535.05" x2="27.2" y2="535.05" stroke="#2a2a2a" stroke-width="0.7"/>
<line x1="25.4" y1="562.75" x2="27.2" y2="562.75" stroke="#2a2a2a" stroke-width="0.7"/>
<line x1="247" y1="420.45" x2="250.1" y2="420.45" stroke="#2a2a2a" stroke-width="0.7"/>
<text x="250.8" y="422.43" font-size="6.0" text-anchor="start" fill="#1a1a1a" >65</text>
<line x1="247" y1="440.8" x2="250.1" y2="440.8" stroke="#2a2a2a" stroke-width="0.7"/>
<text x="250.8" y="442.78" font-size="6.0" text-anchor="start" fill="#1a1a1a" >60</text>
<line x1="247" y1="461.15" x2="250.1" y2="461.15" stroke="#2a2a2a" stroke-width="0.7"/>
<text x="250.8" y="463.13" font-size="6.0" text-anchor="start" fill="#1a1a1a" >55</text>
<line x1="247" y1="481.5" x2="250.1" y2="481.5" stroke="#2a2a2a" stroke-width="0.7"/>
<text x="250.8" y="483.48" font-size="6.0" text-anchor="start" fill="#1a1a1a" >50</text>
<line x1="247" y1="501.85" x2="250.1" y2="501.85" stroke="#2a2a2a" stroke-width="0.7"/>
<text x="250.8" y="503.83" font-size="6.0" text-anchor="start" fill="#1a1a1a" >45</text>
<line x1="247" y1="522.2" x2="250.1" y2="522.2" stroke="#2a2a2a" stroke-width="0.7"/>
<text x="250.8" y="524.18" font-size="6.0" text-anchor="start" fill="#1a1a1a" >40</text>
<line x1="247" y1="542.55" x2="250.1" y2="542.55" stroke="#2a2a2a" stroke-width="0.7"/>
<text x="250.8" y="544.53" font-size="6.0" text-anchor="start" fill="#1a1a1a" >35</text>
<line x1="247" y1="562.9" x2="250.1" y2="562.9" stroke="#2a2a2a" stroke-width="0.7"/>
<text x="250.8" y="564.88" font-size="6.0" text-anchor="start" fill="#1a1a1a" >30</text>
<line x1="247" y1="410.27" x2="248.8" y2="410.27" stroke="#2a2a2a" stroke-width="0.7"/>
<line x1="247" y1="430.62" x2="248.8" y2="430.62" stroke="#2a2a2a" stroke-width="0.7"/>
<line x1="247" y1="450.97" x2="248.8" y2="450.97" stroke="#2a2a2a" stroke-width="0.7"/>
<line x1="247" y1="471.32" x2="248.8" y2="471.32" stroke="#2a2a2a" stroke-width="0.7"/>
<line x1="247" y1="491.68" x2="248.8" y2="491.68" stroke="#2a2a2a" stroke-width="0.7"/>
<line x1="247" y1="512.02" x2="248.8" y2="512.02" stroke="#2a2a2a" stroke-width="0.7"/>
<line x1="247" y1="532.38" x2="248.8" y2="532.38" stroke="#2a2a2a" stroke-width="0.7"/>
<line x1="247" y1="552.72" x2="248.8" y2="552.72" stroke="#2a2a2a" stroke-width="0.7"/>
<text x="56.5" y="570.28" font-size="6.0" text-anchor="middle" fill="#1a1a1a" >3</text>
<text x="97.9" y="570.28" font-size="6.0" text-anchor="middle" fill="#1a1a1a" >5</text>
<text x="139.3" y="570.28" font-size="6.0" text-anchor="middle" fill="#1a1a1a" >7</text>
<text x="180.7" y="570.28" font-size="6.0" text-anchor="middle" fill="#1a1a1a" >9</text>
<text x="222.3" y="570.28" font-size="6.0" text-anchor="middle" fill="#1a1a1a" >11</text>
<text x="131.5" y="580.81" font-size="7.6" text-anchor="middle" fill="#1a1a1a" >Yeast extract concentration(g/L)</text>
<text transform="translate(13.44,486.6) rotate(-90)" font-size="7.8" text-anchor="middle" fill="#1a1a1a">Biomass (g/L)</text>
<text transform="translate(274.24,485.6) rotate(-90)" font-size="7.8" text-anchor="middle" fill="#1a1a1a">Fatty acid&#160; and DHA content (%)</text>
<rect x="163.5" y="405.8" width="16" height="7.6" fill="url(#p1)" stroke="#4a4a4a" stroke-width="0.6"/>
<text x="182.1" y="412.38" font-size="7.5" text-anchor="start" fill="#1a1a1a" >Biomass</text>
<rect x="163.5" y="415.4" width="16" height="7.7" fill="url(#p2)" stroke="#4a4a4a" stroke-width="0.6"/>
<text x="182.1" y="422.03" font-size="7.5" text-anchor="start" fill="#1a1a1a" >Fatty acid&#160; Content</text>
<rect x="163.5" y="425.1" width="16" height="7.6" fill="url(#p3)" stroke="#4a4a4a" stroke-width="0.6"/>
<text x="182.1" y="431.68" font-size="7.5" text-anchor="start" fill="#1a1a1a" >DHA Content</text>
<text x="15.5" y="401" font-size="15.2" text-anchor="start" fill="#1a1a1a" >E</text>
<rect x="314" y="548" width="8.6" height="22.3" fill="url(#p1)" stroke="#4e4e4e" stroke-width="0.65"/>
<rect x="322.6" y="465.8" width="8.6" height="104.5" fill="url(#p2)" stroke="#4e4e4e" stroke-width="0.65"/>
<rect x="331.2" y="553.1" width="8.6" height="17.2" fill="url(#p3)" stroke="#4e4e4e" stroke-width="0.65"/>
<line x1="318.3" y1="539.1" x2="318.3" y2="557.4" stroke="#7e7e7e" stroke-width="0.55"/>
<line x1="316.7" y1="539.1" x2="319.9" y2="539.1" stroke="#7e7e7e" stroke-width="0.55"/>
<line x1="316.7" y1="557.4" x2="319.9" y2="557.4" stroke="#7e7e7e" stroke-width="0.55"/>
<line x1="326.9" y1="455.4" x2="326.9" y2="476.2" stroke="#7e7e7e" stroke-width="0.55"/>
<line x1="325.3" y1="455.4" x2="328.5" y2="455.4" stroke="#7e7e7e" stroke-width="0.55"/>
<line x1="325.3" y1="476.2" x2="328.5" y2="476.2" stroke="#7e7e7e" stroke-width="0.55"/>
<line x1="335.5" y1="546" x2="335.5" y2="561.2" stroke="#7e7e7e" stroke-width="0.55"/>
<line x1="333.9" y1="546" x2="337.1" y2="546" stroke="#7e7e7e" stroke-width="0.55"/>
<line x1="333.9" y1="561.2" x2="337.1" y2="561.2" stroke="#7e7e7e" stroke-width="0.55"/>
<text x="318.3" y="540" font-size="7.4" text-anchor="middle" fill="#2a2a2a" font-weight="bold">***</text>
<text x="336.8" y="547" font-size="7.4" text-anchor="middle" fill="#2a2a2a" font-weight="bold">***</text>
<rect x="355.7" y="513.2" width="8.6" height="57.1" fill="url(#p1)" stroke="#4e4e4e" stroke-width="0.65"/>
<rect x="364.3" y="440.4" width="8.6" height="129.9" fill="url(#p2)" stroke="#4e4e4e" stroke-width="0.65"/>
<rect x="372.9" y="536.6" width="8.6" height="33.7" fill="url(#p3)" stroke="#4e4e4e" stroke-width="0.65"/>
<line x1="360" y1="508.6" x2="360" y2="518" stroke="#7e7e7e" stroke-width="0.55"/>
<line x1="358.4" y1="508.6" x2="361.6" y2="508.6" stroke="#7e7e7e" stroke-width="0.55"/>
<line x1="358.4" y1="518" x2="361.6" y2="518" stroke="#7e7e7e" stroke-width="0.55"/>
<line x1="368.6" y1="426.4" x2="368.6" y2="454.4" stroke="#7e7e7e" stroke-width="0.55"/>
<line x1="367" y1="426.4" x2="370.2" y2="426.4" stroke="#7e7e7e" stroke-width="0.55"/>
<line x1="367" y1="454.4" x2="370.2" y2="454.4" stroke="#7e7e7e" stroke-width="0.55"/>
<line x1="377.2" y1="532" x2="377.2" y2="541.7" stroke="#7e7e7e" stroke-width="0.55"/>
<line x1="375.6" y1="532" x2="378.8" y2="532" stroke="#7e7e7e" stroke-width="0.55"/>
<line x1="375.6" y1="541.7" x2="378.8" y2="541.7" stroke="#7e7e7e" stroke-width="0.55"/>
<text x="359.5" y="510" font-size="7.4" text-anchor="middle" fill="#2a2a2a" font-weight="bold">***</text>
<text x="378" y="533" font-size="7.4" text-anchor="middle" fill="#2a2a2a" font-weight="bold">***</text>
<rect x="397.3" y="503.2" width="8.6" height="67.1" fill="url(#p1)" stroke="#4e4e4e" stroke-width="0.65"/>
<rect x="405.9" y="471.4" width="8.6" height="98.9" fill="url(#p2)" stroke="#4e4e4e" stroke-width="0.65"/>
<rect x="414.5" y="526.4" width="8.6" height="43.9" fill="url(#p3)" stroke="#4e4e4e" stroke-width="0.65"/>
<line x1="401.6" y1="492" x2="401.6" y2="514.2" stroke="#7e7e7e" stroke-width="0.55"/>
<line x1="400" y1="492" x2="403.2" y2="492" stroke="#7e7e7e" stroke-width="0.55"/>
<line x1="400" y1="514.2" x2="403.2" y2="514.2" stroke="#7e7e7e" stroke-width="0.55"/>
<line x1="410.2" y1="454.4" x2="410.2" y2="488.4" stroke="#7e7e7e" stroke-width="0.55"/>
<line x1="408.6" y1="454.4" x2="411.8" y2="454.4" stroke="#7e7e7e" stroke-width="0.55"/>
<line x1="408.6" y1="488.4" x2="411.8" y2="488.4" stroke="#7e7e7e" stroke-width="0.55"/>
<line x1="418.8" y1="525.2" x2="418.8" y2="527.6" stroke="#7e7e7e" stroke-width="0.55"/>
<line x1="417.2" y1="525.2" x2="420.4" y2="525.2" stroke="#7e7e7e" stroke-width="0.55"/>
<line x1="417.2" y1="527.6" x2="420.4" y2="527.6" stroke="#7e7e7e" stroke-width="0.55"/>
<text x="401" y="492" font-size="7.4" text-anchor="middle" fill="#2a2a2a" font-weight="bold">***</text>
<text x="418.4" y="525" font-size="7.4" text-anchor="middle" fill="#2a2a2a" font-weight="bold">*</text>
<rect x="438.8" y="437.1" width="8.6" height="133.2" fill="url(#p1)" stroke="#4e4e4e" stroke-width="0.65"/>
<rect x="447.4" y="477.3" width="8.6" height="93" fill="url(#p2)" stroke="#4e4e4e" stroke-width="0.65"/>
<rect x="456" y="509.1" width="8.6" height="61.2" fill="url(#p3)" stroke="#4e4e4e" stroke-width="0.65"/>
<line x1="443.1" y1="430.2" x2="443.1" y2="443.9" stroke="#7e7e7e" stroke-width="0.55"/>
<line x1="441.5" y1="430.2" x2="444.7" y2="430.2" stroke="#7e7e7e" stroke-width="0.55"/>
<line x1="441.5" y1="443.9" x2="444.7" y2="443.9" stroke="#7e7e7e" stroke-width="0.55"/>
<line x1="451.7" y1="447.3" x2="451.7" y2="507.3" stroke="#7e7e7e" stroke-width="0.55"/>
<line x1="450.1" y1="447.3" x2="453.3" y2="447.3" stroke="#7e7e7e" stroke-width="0.55"/>
<line x1="450.1" y1="507.3" x2="453.3" y2="507.3" stroke="#7e7e7e" stroke-width="0.55"/>
<line x1="460.3" y1="505.3" x2="460.3" y2="513.7" stroke="#7e7e7e" stroke-width="0.55"/>
<line x1="458.7" y1="505.3" x2="461.9" y2="505.3" stroke="#7e7e7e" stroke-width="0.55"/>
<line x1="458.7" y1="513.7" x2="461.9" y2="513.7" stroke="#7e7e7e" stroke-width="0.55"/>
<rect x="480" y="476.5" width="8.6" height="93.8" fill="url(#p1)" stroke="#4e4e4e" stroke-width="0.65"/>
<rect x="488.6" y="451.8" width="8.6" height="118.5" fill="url(#p2)" stroke="#4e4e4e" stroke-width="0.65"/>
<rect x="497.2" y="502.7" width="8.6" height="67.6" fill="url(#p3)" stroke="#4e4e4e" stroke-width="0.65"/>
<line x1="484.3" y1="469.4" x2="484.3" y2="484.1" stroke="#7e7e7e" stroke-width="0.55"/>
<line x1="482.7" y1="469.4" x2="485.9" y2="469.4" stroke="#7e7e7e" stroke-width="0.55"/>
<line x1="482.7" y1="484.1" x2="485.9" y2="484.1" stroke="#7e7e7e" stroke-width="0.55"/>
<line x1="492.9" y1="445.2" x2="492.9" y2="458.7" stroke="#7e7e7e" stroke-width="0.55"/>
<line x1="491.3" y1="445.2" x2="494.5" y2="445.2" stroke="#7e7e7e" stroke-width="0.55"/>
<line x1="491.3" y1="458.7" x2="494.5" y2="458.7" stroke="#7e7e7e" stroke-width="0.55"/>
<line x1="501.5" y1="496.4" x2="501.5" y2="509.1" stroke="#7e7e7e" stroke-width="0.55"/>
<line x1="499.9" y1="496.4" x2="503.1" y2="496.4" stroke="#7e7e7e" stroke-width="0.55"/>
<line x1="499.9" y1="509.1" x2="503.1" y2="509.1" stroke="#7e7e7e" stroke-width="0.55"/>
<text x="484.3" y="470" font-size="7.4" text-anchor="middle" fill="#2a2a2a" font-weight="bold">**</text>
<line x1="310.1" y1="422" x2="310.1" y2="570.7" stroke="#2a2a2a" stroke-width="0.8"/>
<line x1="517.9" y1="418" x2="517.9" y2="570.7" stroke="#2a2a2a" stroke-width="0.8"/>
<line x1="309.7" y1="570.3" x2="518.3" y2="570.3" stroke="#2a2a2a" stroke-width="0.8"/>
<line x1="307" y1="425.02" x2="310.1" y2="425.02" stroke="#2a2a2a" stroke-width="0.7"/>
<text x="305" y="426.94" font-size="5.8" text-anchor="end" fill="#1a1a1a" >22.0</text>
<line x1="307" y1="440.3" x2="310.1" y2="440.3" stroke="#2a2a2a" stroke-width="0.7"/>
<text x="305" y="442.21" font-size="5.8" text-anchor="end" fill="#1a1a1a" >21.5</text>
<line x1="307" y1="455.57" x2="310.1" y2="455.57" stroke="#2a2a2a" stroke-width="0.7"/>
<text x="305" y="457.49" font-size="5.8" text-anchor="end" fill="#1a1a1a" >21.0</text>
<line x1="307" y1="470.85" x2="310.1" y2="470.85" stroke="#2a2a2a" stroke-width="0.7"/>
<text x="305" y="472.76" font-size="5.8" text-anchor="end" fill="#1a1a1a" >20.5</text>
<line x1="307" y1="486.12" x2="310.1" y2="486.12" stroke="#2a2a2a" stroke-width="0.7"/>
<text x="305" y="488.04" font-size="5.8" text-anchor="end" fill="#1a1a1a" >20.0</text>
<line x1="307" y1="501.4" x2="310.1" y2="501.4" stroke="#2a2a2a" stroke-width="0.7"/>
<text x="305" y="503.31" font-size="5.8" text-anchor="end" fill="#1a1a1a" >19.5</text>
<line x1="307" y1="516.67" x2="310.1" y2="516.67" stroke="#2a2a2a" stroke-width="0.7"/>
<text x="305" y="518.59" font-size="5.8" text-anchor="end" fill="#1a1a1a" >19.0</text>
<line x1="307" y1="531.95" x2="310.1" y2="531.95" stroke="#2a2a2a" stroke-width="0.7"/>
<text x="305" y="533.86" font-size="5.8" text-anchor="end" fill="#1a1a1a" >18.5</text>
<line x1="307" y1="547.23" x2="310.1" y2="547.23" stroke="#2a2a2a" stroke-width="0.7"/>
<text x="305" y="549.14" font-size="5.8" text-anchor="end" fill="#1a1a1a" >18.0</text>
<line x1="307" y1="562.5" x2="310.1" y2="562.5" stroke="#2a2a2a" stroke-width="0.7"/>
<text x="305" y="564.41" font-size="5.8" text-anchor="end" fill="#1a1a1a" >17.5</text>
<line x1="308.3" y1="432.66" x2="310.1" y2="432.66" stroke="#2a2a2a" stroke-width="0.7"/>
<line x1="308.3" y1="447.94" x2="310.1" y2="447.94" stroke="#2a2a2a" stroke-width="0.7"/>
<line x1="308.3" y1="463.21" x2="310.1" y2="463.21" stroke="#2a2a2a" stroke-width="0.7"/>
<line x1="308.3" y1="478.49" x2="310.1" y2="478.49" stroke="#2a2a2a" stroke-width="0.7"/>
<line x1="308.3" y1="493.76" x2="310.1" y2="493.76" stroke="#2a2a2a" stroke-width="0.7"/>
<line x1="308.3" y1="509.04" x2="310.1" y2="509.04" stroke="#2a2a2a" stroke-width="0.7"/>
<line x1="308.3" y1="524.31" x2="310.1" y2="524.31" stroke="#2a2a2a" stroke-width="0.7"/>
<line x1="308.3" y1="539.59" x2="310.1" y2="539.59" stroke="#2a2a2a" stroke-width="0.7"/>
<line x1="308.3" y1="554.86" x2="310.1" y2="554.86" stroke="#2a2a2a" stroke-width="0.7"/>
<line x1="308.3" y1="570.14" x2="310.1" y2="570.14" stroke="#2a2a2a" stroke-width="0.7"/>
<line x1="517.9" y1="426.9" x2="521" y2="426.9" stroke="#2a2a2a" stroke-width="0.7"/>
<text x="521" y="428.81" font-size="5.8" text-anchor="start" fill="#1a1a1a" >61</text>
<line x1="517.9" y1="443.7" x2="521" y2="443.7" stroke="#2a2a2a" stroke-width="0.7"/>
<text x="521" y="445.61" font-size="5.8" text-anchor="start" fill="#1a1a1a" >60</text>
<line x1="517.9" y1="460.5" x2="521" y2="460.5" stroke="#2a2a2a" stroke-width="0.7"/>
<text x="521" y="462.41" font-size="5.8" text-anchor="start" fill="#1a1a1a" >59</text>
<line x1="517.9" y1="477.3" x2="521" y2="477.3" stroke="#2a2a2a" stroke-width="0.7"/>
<text x="521" y="479.21" font-size="5.8" text-anchor="start" fill="#1a1a1a" >58</text>
<line x1="517.9" y1="494.1" x2="521" y2="494.1" stroke="#2a2a2a" stroke-width="0.7"/>
<text x="521" y="496.01" font-size="5.8" text-anchor="start" fill="#1a1a1a" >57</text>
<line x1="517.9" y1="510.9" x2="521" y2="510.9" stroke="#2a2a2a" stroke-width="0.7"/>
<text x="521" y="512.81" font-size="5.8" text-anchor="start" fill="#1a1a1a" >56</text>
<line x1="517.9" y1="527.7" x2="521" y2="527.7" stroke="#2a2a2a" stroke-width="0.7"/>
<text x="521" y="529.61" font-size="5.8" text-anchor="start" fill="#1a1a1a" >55</text>
<line x1="517.9" y1="544.5" x2="521" y2="544.5" stroke="#2a2a2a" stroke-width="0.7"/>
<text x="521" y="546.41" font-size="5.8" text-anchor="start" fill="#1a1a1a" >54</text>
<line x1="517.9" y1="561.3" x2="521" y2="561.3" stroke="#2a2a2a" stroke-width="0.7"/>
<text x="521" y="563.21" font-size="5.8" text-anchor="start" fill="#1a1a1a" >53</text>
<line x1="517.9" y1="418.5" x2="519.7" y2="418.5" stroke="#2a2a2a" stroke-width="0.7"/>
<line x1="517.9" y1="435.3" x2="519.7" y2="435.3" stroke="#2a2a2a" stroke-width="0.7"/>
<line x1="517.9" y1="452.1" x2="519.7" y2="452.1" stroke="#2a2a2a" stroke-width="0.7"/>
<line x1="517.9" y1="468.9" x2="519.7" y2="468.9" stroke="#2a2a2a" stroke-width="0.7"/>
<line x1="517.9" y1="485.7" x2="519.7" y2="485.7" stroke="#2a2a2a" stroke-width="0.7"/>
<line x1="517.9" y1="502.5" x2="519.7" y2="502.5" stroke="#2a2a2a" stroke-width="0.7"/>
<line x1="517.9" y1="519.3" x2="519.7" y2="519.3" stroke="#2a2a2a" stroke-width="0.7"/>
<line x1="517.9" y1="536.1" x2="519.7" y2="536.1" stroke="#2a2a2a" stroke-width="0.7"/>
<line x1="517.9" y1="552.9" x2="519.7" y2="552.9" stroke="#2a2a2a" stroke-width="0.7"/>
<line x1="517.9" y1="569.7" x2="519.7" y2="569.7" stroke="#2a2a2a" stroke-width="0.7"/>
<line x1="330.8" y1="570.3" x2="330.8" y2="573.5" stroke="#2a2a2a" stroke-width="0.7"/>
<text x="327.2" y="580.38" font-size="6.0" text-anchor="middle" fill="#1a1a1a" >2</text>
<line x1="372.3" y1="570.3" x2="372.3" y2="573.5" stroke="#2a2a2a" stroke-width="0.7"/>
<text x="368.7" y="580.38" font-size="6.0" text-anchor="middle" fill="#1a1a1a" >4</text>
<line x1="413.9" y1="570.3" x2="413.9" y2="573.5" stroke="#2a2a2a" stroke-width="0.7"/>
<text x="410.3" y="580.38" font-size="6.0" text-anchor="middle" fill="#1a1a1a" >6</text>
<line x1="455.2" y1="570.3" x2="455.2" y2="573.5" stroke="#2a2a2a" stroke-width="0.7"/>
<text x="451.6" y="580.38" font-size="6.0" text-anchor="middle" fill="#1a1a1a" >8</text>
<line x1="496.8" y1="570.3" x2="496.8" y2="573.5" stroke="#2a2a2a" stroke-width="0.7"/>
<text x="493.2" y="580.38" font-size="6.0" text-anchor="middle" fill="#1a1a1a" >10</text>
<line x1="351.55" y1="570.3" x2="351.55" y2="572.2" stroke="#2a2a2a" stroke-width="0.7"/>
<line x1="351.55" y1="570.3" x2="351.55" y2="572.2" stroke="#2a2a2a" stroke-width="0.7"/>
<line x1="393.05" y1="570.3" x2="393.05" y2="572.2" stroke="#2a2a2a" stroke-width="0.7"/>
<line x1="393.15" y1="570.3" x2="393.15" y2="572.2" stroke="#2a2a2a" stroke-width="0.7"/>
<line x1="434.65" y1="570.3" x2="434.65" y2="572.2" stroke="#2a2a2a" stroke-width="0.7"/>
<line x1="434.45" y1="570.3" x2="434.45" y2="572.2" stroke="#2a2a2a" stroke-width="0.7"/>
<line x1="475.95" y1="570.3" x2="475.95" y2="572.2" stroke="#2a2a2a" stroke-width="0.7"/>
<line x1="476.05" y1="570.3" x2="476.05" y2="572.2" stroke="#2a2a2a" stroke-width="0.7"/>
<line x1="517.55" y1="570.3" x2="517.55" y2="572.2" stroke="#2a2a2a" stroke-width="0.7"/>
<text x="402" y="590.51" font-size="7.6" text-anchor="middle" fill="#1a1a1a" >Inoculation volume (%)</text>
<text transform="translate(289.94,493.6) rotate(-90)" font-size="7.8" text-anchor="middle" fill="#1a1a1a">Biomass (g/L)</text>
<text transform="translate(541.94,492) rotate(-90)" font-size="7.8" text-anchor="middle" fill="#1a1a1a">Fatty acid&#160; and DHA content (%)</text>
<rect x="327.9" y="395.9" width="16.3" height="7.6" fill="url(#p1)" stroke="#4a4a4a" stroke-width="0.6"/>
<text x="346.8" y="402.48" font-size="7.5" text-anchor="start" fill="#1a1a1a" >Biomass</text>
<rect x="327.9" y="405.3" width="16.3" height="7.6" fill="url(#p2)" stroke="#4a4a4a" stroke-width="0.6"/>
<text x="346.8" y="411.88" font-size="7.5" text-anchor="start" fill="#1a1a1a" >Fatty acid&#160; Content</text>
<rect x="327.9" y="414.7" width="16.3" height="7.6" fill="url(#p3)" stroke="#4a4a4a" stroke-width="0.6"/>
<text x="346.8" y="421.28" font-size="7.5" text-anchor="start" fill="#1a1a1a" >DHA Content</text>
<text x="305.6" y="407.9" font-size="17" text-anchor="start" fill="#1a1a1a" >F</text>
</svg>
</body></html>
